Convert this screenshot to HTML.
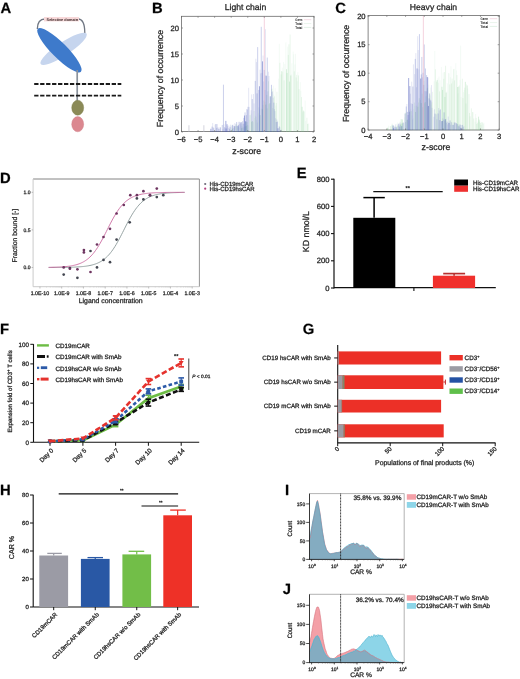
<!DOCTYPE html>
<html><head><meta charset="utf-8"><style>
html,body{margin:0;padding:0;background:#fff;}
svg{display:block;}
svg text{font-family:"Liberation Sans", Arial, sans-serif;text-rendering:geometricPrecision;stroke:#2a2a2a;stroke-width:0.28px;stroke-linejoin:round;}
svg text.ns{stroke:none;}
</style></head><body>
<svg width="520" height="679" viewBox="0 0 520 679">
<text x="0.60" y="12.60" font-size="14.8" text-anchor="start" font-weight="bold" fill="#000" >A</text>
<path d="M45,19 Q37.5,19 37.3,29" fill="none" stroke="#6f7682" stroke-width="1.3"/>
<path d="M78,19 Q84.8,19 84.8,33" fill="none" stroke="#6f7682" stroke-width="1.3"/>
<rect x="44.00" y="17.00" width="35.00" height="4.40" fill="#f8d9da" />
<text x="46.60" y="20.80" font-size="3.9" text-anchor="start" font-weight="bold" fill="#3a2a2a" class="ns" textLength="31.4" lengthAdjust="spacingAndGlyphs">Selective domain</text>
<ellipse cx="63.6" cy="48.8" rx="27.5" ry="6.6" transform="rotate(-33.5 63.6 48.8)" fill="#c6d5ee"/>
<ellipse cx="59.4" cy="50.2" rx="30.5" ry="7.6" transform="rotate(45 59.4 50.2)" fill="#3e7acb"/>
<line x1="77.20" y1="70.00" x2="77.20" y2="101.00" stroke="#8a929c" stroke-width="1.7" />
<line x1="34.20" y1="84.00" x2="121.30" y2="84.00" stroke="#1a1a1a" stroke-width="1.8" stroke-dasharray="4.3 1.66"/>
<line x1="34.20" y1="95.60" x2="121.30" y2="95.60" stroke="#1a1a1a" stroke-width="1.8" stroke-dasharray="4.3 1.66"/>
<ellipse cx="77.7" cy="107.7" rx="6.0" ry="7.5" fill="#8b8a57" stroke="#7f7d4c" stroke-width="0.4"/>
<ellipse cx="77.7" cy="124.2" rx="6.0" ry="7.6" fill="#db8890" stroke="#d07c86" stroke-width="0.4"/>
<rect x="181.5" y="16.3" width="132.5" height="115.3" fill="none" stroke="#6a6a6a" stroke-width="0.8"/>
<path d="M231.33,132.00V124.93M233.13,132.00V125.63M235.53,132.00V126.28M236.13,132.00V125.53M237.33,132.00V125.25M238.53,132.00V126.77M239.73,132.00V127.68M240.93,132.00V125.24M242.13,132.00V124.21M243.33,132.00V127.27M243.93,132.00V127.02M244.53,132.00V123.86M248.73,132.00V125.43M249.33,132.00V119.84M250.53,132.00V115.21M251.13,132.00V113.64M253.53,132.00V122.27M254.73,132.00V117.96M255.33,132.00V115.50M256.53,132.00V119.70M257.13,132.00V122.96M257.73,132.00V121.87M258.33,132.00V113.28M259.53,132.00V109.84M264.33,132.00V100.14M270.33,132.00V97.44M270.93,132.00V96.72M271.53,132.00V89.36M273.33,132.00V85.56M273.93,132.00V94.68M275.13,132.00V88.13M275.73,132.00V105.46M278.73,132.00V78.65M279.33,132.00V43.87M282.33,132.00V67.71M282.93,132.00V71.69M283.53,132.00V62.12M284.73,132.00V63.91M285.93,132.00V42.28M287.73,132.00V46.62M291.33,132.00V74.39M291.93,132.00V63.13M293.13,132.00V51.53M293.73,132.00V54.29M294.93,132.00V64.37M295.53,132.00V53.83M297.33,132.00V81.21M297.93,132.00V72.15M300.33,132.00V82.17M300.93,132.00V90.82M302.73,132.00V112.25M303.93,132.00V111.84M304.53,132.00V111.42M305.13,132.00V100.60M305.73,132.00V120.77M308.13,132.00V123.38M308.73,132.00V123.79" fill="none" stroke="#7fcf8e" stroke-width="0.6" stroke-opacity="0.14"/>
<path d="M231.93,132.00V128.49M234.93,132.00V126.58M236.73,132.00V123.79M237.93,132.00V127.38M242.73,132.00V127.87M247.53,132.00V125.14M249.93,132.00V115.21M254.13,132.00V111.09M255.93,132.00V116.64M258.93,132.00V107.28M261.33,132.00V108.81M263.13,132.00V104.93M263.73,132.00V100.59M264.93,132.00V101.78M265.53,132.00V104.75M266.13,132.00V104.48M266.73,132.00V94.87M267.33,132.00V108.42M268.53,132.00V81.32M269.13,132.00V104.29M272.13,132.00V88.65M272.73,132.00V108.17M274.53,132.00V96.40M276.33,132.00V103.00M276.93,132.00V91.74M279.93,132.00V62.81M281.13,132.00V74.41M284.13,132.00V80.31M288.33,132.00V54.90M288.93,132.00V44.22M290.13,132.00V34.56M294.33,132.00V71.37M296.13,132.00V77.55M296.73,132.00V74.89M298.53,132.00V75.42M299.13,132.00V89.10M301.53,132.00V97.03M306.93,132.00V117.74M307.53,132.00V123.96" fill="none" stroke="#7fcf8e" stroke-width="0.6" stroke-opacity="0.28"/>
<path d="M232.53,132.00V128.74M241.53,132.00V128.15M245.13,132.00V126.44M245.73,132.00V121.93M246.33,132.00V125.88M246.93,132.00V122.10M251.73,132.00V121.80M252.33,132.00V121.11M260.13,132.00V115.13M262.53,132.00V109.36M269.73,132.00V103.18M281.73,132.00V71.19M286.53,132.00V69.24M287.13,132.00V72.96M289.53,132.00V81.62M290.73,132.00V75.52M302.13,132.00V106.79M303.33,132.00V110.63" fill="none" stroke="#7fcf8e" stroke-width="0.6" stroke-opacity="0.48"/>
<path d="M212.66,132.00V123.07M213.86,132.00V128.15M215.06,132.00V124.54M215.66,132.00V123.98M217.46,132.00V124.06M218.06,132.00V127.13M219.26,132.00V128.94M219.86,132.00V127.39M222.86,132.00V128.91M224.06,132.00V124.24M227.66,132.00V126.17M228.26,132.00V128.04M228.86,132.00V125.42M230.66,132.00V124.64M231.86,132.00V126.28M233.06,132.00V124.57M233.66,132.00V127.92M234.86,132.00V123.03M235.46,132.00V124.21M236.06,132.00V125.91M239.66,132.00V123.86M242.06,132.00V126.44M247.46,132.00V109.74M248.66,132.00V87.82M249.26,132.00V106.92M251.06,132.00V110.23M251.66,132.00V94.37M253.46,132.00V94.01M254.06,132.00V103.41M255.86,132.00V58.74M256.46,132.00V62.08M260.06,132.00V69.67M260.66,132.00V73.36M261.86,132.00V72.96M263.06,132.00V55.57M263.66,132.00V81.48M264.86,132.00V90.01M265.46,132.00V29.17M266.66,132.00V76.09M267.86,132.00V91.32M268.46,132.00V71.69M269.06,132.00V76.01M272.06,132.00V92.08M272.66,132.00V91.22M273.26,132.00V97.68M274.46,132.00V109.13M275.06,132.00V111.19M275.66,132.00V118.26M276.86,132.00V119.49M279.86,132.00V127.26M280.46,132.00V129.86M281.06,132.00V129.73" fill="none" stroke="#4655b8" stroke-width="0.6" stroke-opacity="0.24"/>
<path d="M212.06,132.00V126.58M213.26,132.00V127.54M216.26,132.00V124.08M216.86,132.00V127.92M218.66,132.00V128.63M220.46,132.00V127.36M222.26,132.00V124.96M223.46,132.00V84.69M224.66,132.00V127.16M225.26,132.00V128.41M226.46,132.00V128.49M229.46,132.00V128.68M230.06,132.00V126.83M232.46,132.00V124.96M236.66,132.00V121.97M238.46,132.00V124.90M239.06,132.00V121.80M240.26,132.00V122.12M240.86,132.00V123.20M241.46,132.00V122.07M242.66,132.00V121.30M243.26,132.00V123.78M243.86,132.00V117.87M245.06,132.00V112.41M246.26,132.00V115.20M246.86,132.00V109.13M248.06,132.00V106.84M252.26,132.00V99.05M255.26,132.00V80.93M257.06,132.00V93.42M257.66,132.00V47.12M258.86,132.00V89.93M261.26,132.00V26.79M264.26,132.00V69.94M267.26,132.00V57.57M271.46,132.00V84.83M273.86,132.00V102.65M276.26,132.00V122.07M277.46,132.00V121.65M279.26,132.00V126.45" fill="none" stroke="#4655b8" stroke-width="0.6" stroke-opacity="0.47"/>
<path d="M210.86,132.00V128.81M225.86,132.00V120.89M227.06,132.00V124.28M234.26,132.00V126.15M237.86,132.00V125.92M244.46,132.00V115.54M245.66,132.00V121.23M259.46,132.00V86.27M262.46,132.00V61.37M266.06,132.00V75.59M270.26,132.00V96.28M278.06,132.00V128.28" fill="none" stroke="#4655b8" stroke-width="0.6" stroke-opacity="0.81"/>
<line x1="188.95" y1="132.00" x2="188.95" y2="125.24" stroke="#b8b8c8" stroke-width="0.6" />
<line x1="203.86" y1="132.00" x2="203.86" y2="125.24" stroke="#b8b8c8" stroke-width="0.6" />
<line x1="264.31" y1="132.00" x2="264.31" y2="16.80" stroke="#ecb4c8" stroke-width="0.6" />
<line x1="181.50" y1="131.60" x2="181.50" y2="130.10" stroke="#666" stroke-width="0.6" />
<line x1="181.50" y1="16.30" x2="181.50" y2="17.80" stroke="#666" stroke-width="0.6" />
<text x="181.50" y="141.80" font-size="7.6" text-anchor="middle" font-weight="normal" fill="#222" >−6</text>
<line x1="198.06" y1="131.60" x2="198.06" y2="130.10" stroke="#666" stroke-width="0.6" />
<line x1="198.06" y1="16.30" x2="198.06" y2="17.80" stroke="#666" stroke-width="0.6" />
<text x="198.06" y="141.80" font-size="7.6" text-anchor="middle" font-weight="normal" fill="#222" >−5</text>
<line x1="214.62" y1="131.60" x2="214.62" y2="130.10" stroke="#666" stroke-width="0.6" />
<line x1="214.62" y1="16.30" x2="214.62" y2="17.80" stroke="#666" stroke-width="0.6" />
<text x="214.62" y="141.80" font-size="7.6" text-anchor="middle" font-weight="normal" fill="#222" >−4</text>
<line x1="231.19" y1="131.60" x2="231.19" y2="130.10" stroke="#666" stroke-width="0.6" />
<line x1="231.19" y1="16.30" x2="231.19" y2="17.80" stroke="#666" stroke-width="0.6" />
<text x="231.19" y="141.80" font-size="7.6" text-anchor="middle" font-weight="normal" fill="#222" >−3</text>
<line x1="247.75" y1="131.60" x2="247.75" y2="130.10" stroke="#666" stroke-width="0.6" />
<line x1="247.75" y1="16.30" x2="247.75" y2="17.80" stroke="#666" stroke-width="0.6" />
<text x="247.75" y="141.80" font-size="7.6" text-anchor="middle" font-weight="normal" fill="#222" >−2</text>
<line x1="264.31" y1="131.60" x2="264.31" y2="130.10" stroke="#666" stroke-width="0.6" />
<line x1="264.31" y1="16.30" x2="264.31" y2="17.80" stroke="#666" stroke-width="0.6" />
<text x="264.31" y="141.80" font-size="7.6" text-anchor="middle" font-weight="normal" fill="#222" >−1</text>
<line x1="280.88" y1="131.60" x2="280.88" y2="130.10" stroke="#666" stroke-width="0.6" />
<line x1="280.88" y1="16.30" x2="280.88" y2="17.80" stroke="#666" stroke-width="0.6" />
<text x="280.88" y="141.80" font-size="7.6" text-anchor="middle" font-weight="normal" fill="#222" >0</text>
<line x1="297.44" y1="131.60" x2="297.44" y2="130.10" stroke="#666" stroke-width="0.6" />
<line x1="297.44" y1="16.30" x2="297.44" y2="17.80" stroke="#666" stroke-width="0.6" />
<text x="297.44" y="141.80" font-size="7.6" text-anchor="middle" font-weight="normal" fill="#222" >1</text>
<line x1="314.00" y1="131.60" x2="314.00" y2="130.10" stroke="#666" stroke-width="0.6" />
<line x1="314.00" y1="16.30" x2="314.00" y2="17.80" stroke="#666" stroke-width="0.6" />
<text x="314.00" y="141.80" font-size="7.6" text-anchor="middle" font-weight="normal" fill="#222" >2</text>
<line x1="181.50" y1="132.00" x2="183.00" y2="132.00" stroke="#666" stroke-width="0.6" />
<line x1="314.00" y1="132.00" x2="312.50" y2="132.00" stroke="#666" stroke-width="0.6" />
<text x="179.00" y="134.70" font-size="7.6" text-anchor="end" font-weight="normal" fill="#222" >0</text>
<line x1="181.50" y1="106.00" x2="183.00" y2="106.00" stroke="#666" stroke-width="0.6" />
<line x1="314.00" y1="106.00" x2="312.50" y2="106.00" stroke="#666" stroke-width="0.6" />
<text x="179.00" y="108.70" font-size="7.6" text-anchor="end" font-weight="normal" fill="#222" >5</text>
<line x1="181.50" y1="80.00" x2="183.00" y2="80.00" stroke="#666" stroke-width="0.6" />
<line x1="314.00" y1="80.00" x2="312.50" y2="80.00" stroke="#666" stroke-width="0.6" />
<text x="179.00" y="82.70" font-size="7.6" text-anchor="end" font-weight="normal" fill="#222" >10</text>
<line x1="181.50" y1="54.00" x2="183.00" y2="54.00" stroke="#666" stroke-width="0.6" />
<line x1="314.00" y1="54.00" x2="312.50" y2="54.00" stroke="#666" stroke-width="0.6" />
<text x="179.00" y="56.70" font-size="7.6" text-anchor="end" font-weight="normal" fill="#222" >15</text>
<line x1="181.50" y1="28.00" x2="183.00" y2="28.00" stroke="#666" stroke-width="0.6" />
<line x1="314.00" y1="28.00" x2="312.50" y2="28.00" stroke="#666" stroke-width="0.6" />
<text x="179.00" y="30.70" font-size="7.6" text-anchor="end" font-weight="normal" fill="#222" >20</text>
<text x="245.50" y="10.30" font-size="8.6" text-anchor="middle" font-weight="normal" fill="#222" >Light chain</text>
<text x="246.70" y="153.60" font-size="8.8" text-anchor="middle" font-weight="normal" fill="#222" >z-score</text>
<text x="162.60" y="78.50" font-size="8.8" text-anchor="middle" font-weight="normal" fill="#222" transform="rotate(-90 162.6 78.5)">Frequency of occurrence</text>
<text x="295.30" y="21.00" font-size="3.6" text-anchor="start" font-weight="bold" fill="#222" class="ns" textLength="7.0" lengthAdjust="spacingAndGlyphs">Germ</text>
<line x1="303.90" y1="19.70" x2="311.30" y2="19.70" stroke="#e8b8c8" stroke-width="0.5" />
<text x="295.30" y="24.85" font-size="3.6" text-anchor="start" font-weight="bold" fill="#222" class="ns" textLength="7.0" lengthAdjust="spacingAndGlyphs">Total</text>
<line x1="303.90" y1="23.55" x2="311.30" y2="23.55" stroke="#d4eadb" stroke-width="0.5" />
<text x="295.30" y="28.70" font-size="3.6" text-anchor="start" font-weight="bold" fill="#222" class="ns" textLength="7.0" lengthAdjust="spacingAndGlyphs">Total</text>
<line x1="303.90" y1="27.40" x2="311.30" y2="27.40" stroke="#c4e4cc" stroke-width="0.5" />
<rect x="368.1" y="15.4" width="131.09999999999997" height="114.6" fill="none" stroke="#6a6a6a" stroke-width="0.8"/>
<path d="M388.56,130.20V125.61M390.96,130.20V125.83M391.56,130.20V125.16M392.76,130.20V124.71M393.96,130.20V125.73M395.16,130.20V126.31M396.36,130.20V123.78M397.56,130.20V122.42M398.76,130.20V125.28M399.36,130.20V124.93M399.96,130.20V121.46M404.16,130.20V123.17M404.76,130.20V117.34M405.96,130.20V112.93M406.56,130.20V111.62M408.96,130.20V120.95M410.16,130.20V111.66M410.76,130.20V109.09M411.96,130.20V115.32M412.56,130.20V119.51M413.16,130.20V118.48M413.76,130.20V108.95M414.96,130.20V105.86M419.76,130.20V98.12M425.76,130.20V96.49M426.36,130.20V95.74M426.96,130.20V88.50M428.76,130.20V84.68M429.36,130.20V93.65M430.56,130.20V87.48M431.16,130.20V104.50M434.16,130.20V81.43M434.76,130.20V51.05M437.76,130.20V78.40M438.36,130.20V82.75M438.96,130.20V76.51M440.16,130.20V80.22M441.36,130.20V66.96M443.16,130.20V72.71M446.76,130.20V91.53M447.36,130.20V83.32M448.56,130.20V73.06M449.16,130.20V73.43M450.36,130.20V77.15M450.96,130.20V66.21M452.76,130.20V81.62M453.36,130.20V69.39M455.76,130.20V63.26M456.36,130.20V70.38M458.16,130.20V93.33M459.36,130.20V85.17M459.96,130.20V79.78M460.56,130.20V45.65M461.16,130.20V96.91M463.56,130.20V92.07M464.16,130.20V89.89M466.56,130.20V84.03M467.76,130.20V88.57M473.16,130.20V112.33M474.96,130.20V121.71M475.56,130.20V113.99M477.96,130.20V121.42M481.56,130.20V122.25M482.76,130.20V123.16M483.36,130.20V123.73M483.96,130.20V122.71" fill="none" stroke="#7fcf8e" stroke-width="0.6" stroke-opacity="0.14"/>
<path d="M387.36,130.20V127.72M390.36,130.20V126.12M392.16,130.20V123.67M393.36,130.20V126.35M398.16,130.20V125.98M402.96,130.20V122.73M405.36,130.20V112.68M409.56,130.20V110.64M411.36,130.20V111.12M414.36,130.20V102.62M416.76,130.20V105.70M418.56,130.20V102.48M419.16,130.20V98.31M420.36,130.20V100.00M420.96,130.20V103.14M421.56,130.20V103.02M422.16,130.20V93.69M422.76,130.20V107.10M423.96,130.20V80.77M424.56,130.20V103.19M427.56,130.20V87.75M428.16,130.20V106.84M429.96,130.20V95.40M431.76,130.20V102.33M432.36,130.20V91.87M435.36,130.20V69.25M436.56,130.20V81.59M439.56,130.20V91.39M443.76,130.20V78.79M444.36,130.20V72.04M445.56,130.20V65.75M449.76,130.20V84.41M451.56,130.20V83.46M452.16,130.20V78.56M453.96,130.20V68.88M454.56,130.20V80.43M456.96,130.20V75.11M462.36,130.20V78.71M462.96,130.20V98.07M464.76,130.20V87.67M465.96,130.20V103.52M468.96,130.20V94.12M469.56,130.20V112.92M470.16,130.20V116.35M471.36,130.20V108.37M472.56,130.20V111.96M473.76,130.20V118.51M476.16,130.20V117.93M476.76,130.20V123.96M477.36,130.20V122.83M479.76,130.20V121.57M480.36,130.20V122.96M480.96,130.20V124.93M482.16,130.20V122.06" fill="none" stroke="#7fcf8e" stroke-width="0.6" stroke-opacity="0.28"/>
<path d="M387.96,130.20V127.87M396.96,130.20V126.44M400.56,130.20V124.17M401.16,130.20V119.22M401.76,130.20V123.51M402.36,130.20V119.38M407.16,130.20V120.04M407.76,130.20V119.52M415.56,130.20V111.93M417.96,130.20V106.79M425.16,130.20V102.11M437.16,130.20V80.04M441.96,130.20V86.74M442.56,130.20V89.94M444.96,130.20V96.91M446.16,130.20V92.65M457.56,130.20V87.03M458.76,130.20V86.61M465.36,130.20V81.84M467.16,130.20V85.48M478.56,130.20V116.67M479.16,130.20V119.64" fill="none" stroke="#7fcf8e" stroke-width="0.6" stroke-opacity="0.48"/>
<path d="M395.45,130.20V124.45M396.65,130.20V127.57M397.85,130.20V124.65M398.45,130.20V123.90M400.25,130.20V122.43M400.85,130.20V124.98M402.05,130.20V126.18M402.65,130.20V123.43M405.65,130.20V121.97M406.85,130.20V104.03M410.45,130.20V93.73M411.05,130.20V103.21M411.65,130.20V81.71M413.45,130.20V64.38M414.65,130.20V74.14M415.85,130.20V53.14M416.45,130.20V87.32M417.65,130.20V36.22M418.25,130.20V50.04M418.85,130.20V69.39M422.45,130.20V77.37M424.85,130.20V91.07M430.25,130.20V99.68M431.45,130.20V85.12M432.05,130.20V107.87M433.85,130.20V116.72M434.45,130.20V109.26M436.25,130.20V114.30M436.85,130.20V119.21M438.65,130.20V107.98M439.25,130.20V110.51M442.85,130.20V118.41M443.45,130.20V119.72M444.65,130.20V120.68M445.85,130.20V118.89M446.45,130.20V122.99M447.65,130.20V124.52M448.25,130.20V116.55M449.45,130.20V122.90M450.65,130.20V124.83M451.25,130.20V122.10M451.85,130.20V122.48M454.85,130.20V123.09M455.45,130.20V122.34M456.05,130.20V122.96M457.25,130.20V124.25M457.85,130.20V124.09M458.45,130.20V125.60M459.65,130.20V124.57M462.65,130.20V124.77M463.25,130.20V127.14M463.85,130.20V126.12" fill="none" stroke="#4655b8" stroke-width="0.6" stroke-opacity="0.24"/>
<path d="M394.85,130.20V126.78M396.05,130.20V127.25M399.05,130.20V123.57M399.65,130.20V126.52M401.45,130.20V126.21M403.25,130.20V122.55M405.05,130.20V113.59M406.25,130.20V106.53M407.45,130.20V111.89M408.05,130.20V115.03M409.25,130.20V111.97M412.25,130.20V103.93M412.85,130.20V86.57M415.25,130.20V58.92M419.45,130.20V34.13M421.25,130.20V74.41M421.85,130.20V56.96M423.05,130.20V72.80M423.65,130.20V84.87M424.25,130.20V44.48M425.45,130.20V68.53M426.05,130.20V91.29M426.65,130.20V75.09M427.85,130.20V77.50M429.05,130.20V98.35M429.65,130.20V93.44M430.85,130.20V100.56M435.05,130.20V113.61M438.05,130.20V113.48M439.85,130.20V120.09M440.45,130.20V109.45M441.65,130.20V121.20M444.05,130.20V112.37M447.05,130.20V121.60M450.05,130.20V120.46M454.25,130.20V122.37M456.65,130.20V123.36M459.05,130.20V126.37M460.25,130.20V124.71M462.05,130.20V125.04" fill="none" stroke="#4655b8" stroke-width="0.6" stroke-opacity="0.47"/>
<path d="M393.05,130.20V125.45M393.65,130.20V128.24M408.65,130.20V78.03M409.85,130.20V86.08M417.05,130.20V68.48M420.65,130.20V78.56M427.25,130.20V77.02M428.45,130.20V105.95M442.25,130.20V121.01M445.25,130.20V119.32M448.85,130.20V122.80M453.05,130.20V124.89M460.85,130.20V127.85" fill="none" stroke="#4655b8" stroke-width="0.6" stroke-opacity="0.81"/>
<line x1="423.35" y1="130.20" x2="423.35" y2="15.90" stroke="#ecb4c8" stroke-width="0.6" />
<line x1="368.10" y1="130.00" x2="368.10" y2="128.50" stroke="#666" stroke-width="0.6" />
<line x1="368.10" y1="15.40" x2="368.10" y2="16.90" stroke="#666" stroke-width="0.6" />
<text x="368.10" y="139.30" font-size="7.6" text-anchor="middle" font-weight="normal" fill="#222" >−4</text>
<line x1="386.83" y1="130.00" x2="386.83" y2="128.50" stroke="#666" stroke-width="0.6" />
<line x1="386.83" y1="15.40" x2="386.83" y2="16.90" stroke="#666" stroke-width="0.6" />
<text x="386.83" y="139.30" font-size="7.6" text-anchor="middle" font-weight="normal" fill="#222" >−3</text>
<line x1="405.56" y1="130.00" x2="405.56" y2="128.50" stroke="#666" stroke-width="0.6" />
<line x1="405.56" y1="15.40" x2="405.56" y2="16.90" stroke="#666" stroke-width="0.6" />
<text x="405.56" y="139.30" font-size="7.6" text-anchor="middle" font-weight="normal" fill="#222" >−2</text>
<line x1="424.29" y1="130.00" x2="424.29" y2="128.50" stroke="#666" stroke-width="0.6" />
<line x1="424.29" y1="15.40" x2="424.29" y2="16.90" stroke="#666" stroke-width="0.6" />
<text x="424.29" y="139.30" font-size="7.6" text-anchor="middle" font-weight="normal" fill="#222" >−1</text>
<line x1="443.01" y1="130.00" x2="443.01" y2="128.50" stroke="#666" stroke-width="0.6" />
<line x1="443.01" y1="15.40" x2="443.01" y2="16.90" stroke="#666" stroke-width="0.6" />
<text x="443.01" y="139.30" font-size="7.6" text-anchor="middle" font-weight="normal" fill="#222" >0</text>
<line x1="461.74" y1="130.00" x2="461.74" y2="128.50" stroke="#666" stroke-width="0.6" />
<line x1="461.74" y1="15.40" x2="461.74" y2="16.90" stroke="#666" stroke-width="0.6" />
<text x="461.74" y="139.30" font-size="7.6" text-anchor="middle" font-weight="normal" fill="#222" >1</text>
<line x1="480.47" y1="130.00" x2="480.47" y2="128.50" stroke="#666" stroke-width="0.6" />
<line x1="480.47" y1="15.40" x2="480.47" y2="16.90" stroke="#666" stroke-width="0.6" />
<text x="480.47" y="139.30" font-size="7.6" text-anchor="middle" font-weight="normal" fill="#222" >2</text>
<line x1="499.20" y1="130.00" x2="499.20" y2="128.50" stroke="#666" stroke-width="0.6" />
<line x1="499.20" y1="15.40" x2="499.20" y2="16.90" stroke="#666" stroke-width="0.6" />
<text x="499.20" y="139.30" font-size="7.6" text-anchor="middle" font-weight="normal" fill="#222" >3</text>
<line x1="368.10" y1="130.20" x2="369.60" y2="130.20" stroke="#666" stroke-width="0.6" />
<line x1="499.20" y1="130.20" x2="497.70" y2="130.20" stroke="#666" stroke-width="0.6" />
<text x="365.60" y="132.90" font-size="7.6" text-anchor="end" font-weight="normal" fill="#222" >0</text>
<line x1="368.10" y1="101.70" x2="369.60" y2="101.70" stroke="#666" stroke-width="0.6" />
<line x1="499.20" y1="101.70" x2="497.70" y2="101.70" stroke="#666" stroke-width="0.6" />
<text x="365.60" y="104.40" font-size="7.6" text-anchor="end" font-weight="normal" fill="#222" >5</text>
<line x1="368.10" y1="73.20" x2="369.60" y2="73.20" stroke="#666" stroke-width="0.6" />
<line x1="499.20" y1="73.20" x2="497.70" y2="73.20" stroke="#666" stroke-width="0.6" />
<text x="365.60" y="75.90" font-size="7.6" text-anchor="end" font-weight="normal" fill="#222" >10</text>
<line x1="368.10" y1="44.70" x2="369.60" y2="44.70" stroke="#666" stroke-width="0.6" />
<line x1="499.20" y1="44.70" x2="497.70" y2="44.70" stroke="#666" stroke-width="0.6" />
<text x="365.60" y="47.40" font-size="7.6" text-anchor="end" font-weight="normal" fill="#222" >15</text>
<line x1="368.10" y1="16.20" x2="369.60" y2="16.20" stroke="#666" stroke-width="0.6" />
<line x1="499.20" y1="16.20" x2="497.70" y2="16.20" stroke="#666" stroke-width="0.6" />
<text x="365.60" y="18.90" font-size="7.6" text-anchor="end" font-weight="normal" fill="#222" >20</text>
<text x="433.50" y="10.30" font-size="8.6" text-anchor="middle" font-weight="normal" fill="#222" >Heavy chain</text>
<text x="436.00" y="149.80" font-size="8.8" text-anchor="middle" font-weight="normal" fill="#222" >z-score</text>
<text x="348.80" y="73.40" font-size="8.8" text-anchor="middle" font-weight="normal" fill="#222" transform="rotate(-90 348.8 73.4)">Frequency of occurrence</text>
<text x="480.60" y="20.00" font-size="3.6" text-anchor="start" font-weight="bold" fill="#222" class="ns" textLength="7.6" lengthAdjust="spacingAndGlyphs">Germ</text>
<line x1="489.80" y1="18.70" x2="497.20" y2="18.70" stroke="#e8b8c8" stroke-width="0.5" />
<text x="480.60" y="23.85" font-size="3.6" text-anchor="start" font-weight="bold" fill="#222" class="ns" textLength="7.6" lengthAdjust="spacingAndGlyphs">Total</text>
<line x1="489.80" y1="22.55" x2="497.20" y2="22.55" stroke="#d4eadb" stroke-width="0.5" />
<text x="480.60" y="27.70" font-size="3.6" text-anchor="start" font-weight="bold" fill="#222" class="ns" textLength="7.6" lengthAdjust="spacingAndGlyphs">Total</text>
<line x1="489.80" y1="26.40" x2="497.20" y2="26.40" stroke="#c4e4cc" stroke-width="0.5" />
<text x="151.90" y="12.80" font-size="14.8" text-anchor="start" font-weight="bold" fill="#000" >B</text>
<text x="335.30" y="12.80" font-size="14.8" text-anchor="start" font-weight="bold" fill="#000" >C</text>
<text x="-0.10" y="182.90" font-size="14.8" text-anchor="start" font-weight="bold" fill="#000" >D</text>
<line x1="33.10" y1="179.00" x2="199.40" y2="179.00" stroke="#777" stroke-width="0.9" />
<line x1="199.40" y1="179.00" x2="199.40" y2="286.70" stroke="#888" stroke-width="0.9" />
<line x1="33.10" y1="179.00" x2="33.10" y2="286.70" stroke="#c4c4c4" stroke-width="0.9" />
<line x1="33.10" y1="286.70" x2="199.40" y2="286.70" stroke="#c4c4c4" stroke-width="0.9" />
<line x1="31.60" y1="267.50" x2="33.10" y2="267.50" stroke="#999" stroke-width="0.6" />
<text x="30.50" y="269.30" font-size="5.0" text-anchor="end" font-weight="normal" fill="#333" >0.0</text>
<line x1="31.60" y1="229.90" x2="33.10" y2="229.90" stroke="#999" stroke-width="0.6" />
<text x="30.50" y="231.70" font-size="5.0" text-anchor="end" font-weight="normal" fill="#333" >0.5</text>
<line x1="31.60" y1="192.30" x2="33.10" y2="192.30" stroke="#999" stroke-width="0.6" />
<text x="30.50" y="194.10" font-size="5.0" text-anchor="end" font-weight="normal" fill="#333" >1.0</text>
<line x1="39.95" y1="286.70" x2="39.95" y2="288.50" stroke="#999" stroke-width="0.6" />
<text x="39.95" y="294.90" font-size="5.3" text-anchor="middle" font-weight="normal" fill="#333" >1.0E-10</text>
<line x1="46.50" y1="286.70" x2="46.50" y2="287.60" stroke="#bbb" stroke-width="0.4" />
<line x1="50.33" y1="286.70" x2="50.33" y2="287.60" stroke="#bbb" stroke-width="0.4" />
<line x1="53.04" y1="286.70" x2="53.04" y2="287.60" stroke="#bbb" stroke-width="0.4" />
<line x1="55.15" y1="286.70" x2="55.15" y2="287.60" stroke="#bbb" stroke-width="0.4" />
<line x1="56.87" y1="286.70" x2="56.87" y2="287.60" stroke="#bbb" stroke-width="0.4" />
<line x1="58.33" y1="286.70" x2="58.33" y2="287.60" stroke="#bbb" stroke-width="0.4" />
<line x1="59.59" y1="286.70" x2="59.59" y2="287.60" stroke="#bbb" stroke-width="0.4" />
<line x1="60.70" y1="286.70" x2="60.70" y2="287.60" stroke="#bbb" stroke-width="0.4" />
<line x1="61.70" y1="286.70" x2="61.70" y2="288.50" stroke="#999" stroke-width="0.6" />
<text x="61.70" y="294.90" font-size="5.3" text-anchor="middle" font-weight="normal" fill="#333" >1.0E-9</text>
<line x1="68.25" y1="286.70" x2="68.25" y2="287.60" stroke="#bbb" stroke-width="0.4" />
<line x1="72.08" y1="286.70" x2="72.08" y2="287.60" stroke="#bbb" stroke-width="0.4" />
<line x1="74.79" y1="286.70" x2="74.79" y2="287.60" stroke="#bbb" stroke-width="0.4" />
<line x1="76.90" y1="286.70" x2="76.90" y2="287.60" stroke="#bbb" stroke-width="0.4" />
<line x1="78.62" y1="286.70" x2="78.62" y2="287.60" stroke="#bbb" stroke-width="0.4" />
<line x1="80.08" y1="286.70" x2="80.08" y2="287.60" stroke="#bbb" stroke-width="0.4" />
<line x1="81.34" y1="286.70" x2="81.34" y2="287.60" stroke="#bbb" stroke-width="0.4" />
<line x1="82.45" y1="286.70" x2="82.45" y2="287.60" stroke="#bbb" stroke-width="0.4" />
<line x1="83.45" y1="286.70" x2="83.45" y2="288.50" stroke="#999" stroke-width="0.6" />
<text x="83.45" y="294.90" font-size="5.3" text-anchor="middle" font-weight="normal" fill="#333" >1.0E-8</text>
<line x1="90.00" y1="286.70" x2="90.00" y2="287.60" stroke="#bbb" stroke-width="0.4" />
<line x1="93.83" y1="286.70" x2="93.83" y2="287.60" stroke="#bbb" stroke-width="0.4" />
<line x1="96.54" y1="286.70" x2="96.54" y2="287.60" stroke="#bbb" stroke-width="0.4" />
<line x1="98.65" y1="286.70" x2="98.65" y2="287.60" stroke="#bbb" stroke-width="0.4" />
<line x1="100.37" y1="286.70" x2="100.37" y2="287.60" stroke="#bbb" stroke-width="0.4" />
<line x1="101.83" y1="286.70" x2="101.83" y2="287.60" stroke="#bbb" stroke-width="0.4" />
<line x1="103.09" y1="286.70" x2="103.09" y2="287.60" stroke="#bbb" stroke-width="0.4" />
<line x1="104.20" y1="286.70" x2="104.20" y2="287.60" stroke="#bbb" stroke-width="0.4" />
<line x1="105.20" y1="286.70" x2="105.20" y2="288.50" stroke="#999" stroke-width="0.6" />
<text x="105.20" y="294.90" font-size="5.3" text-anchor="middle" font-weight="normal" fill="#333" >1.0E-7</text>
<line x1="111.75" y1="286.70" x2="111.75" y2="287.60" stroke="#bbb" stroke-width="0.4" />
<line x1="115.58" y1="286.70" x2="115.58" y2="287.60" stroke="#bbb" stroke-width="0.4" />
<line x1="118.29" y1="286.70" x2="118.29" y2="287.60" stroke="#bbb" stroke-width="0.4" />
<line x1="120.40" y1="286.70" x2="120.40" y2="287.60" stroke="#bbb" stroke-width="0.4" />
<line x1="122.12" y1="286.70" x2="122.12" y2="287.60" stroke="#bbb" stroke-width="0.4" />
<line x1="123.58" y1="286.70" x2="123.58" y2="287.60" stroke="#bbb" stroke-width="0.4" />
<line x1="124.84" y1="286.70" x2="124.84" y2="287.60" stroke="#bbb" stroke-width="0.4" />
<line x1="125.95" y1="286.70" x2="125.95" y2="287.60" stroke="#bbb" stroke-width="0.4" />
<line x1="126.95" y1="286.70" x2="126.95" y2="288.50" stroke="#999" stroke-width="0.6" />
<text x="126.95" y="294.90" font-size="5.3" text-anchor="middle" font-weight="normal" fill="#333" >1.0E-6</text>
<line x1="133.50" y1="286.70" x2="133.50" y2="287.60" stroke="#bbb" stroke-width="0.4" />
<line x1="137.33" y1="286.70" x2="137.33" y2="287.60" stroke="#bbb" stroke-width="0.4" />
<line x1="140.04" y1="286.70" x2="140.04" y2="287.60" stroke="#bbb" stroke-width="0.4" />
<line x1="142.15" y1="286.70" x2="142.15" y2="287.60" stroke="#bbb" stroke-width="0.4" />
<line x1="143.87" y1="286.70" x2="143.87" y2="287.60" stroke="#bbb" stroke-width="0.4" />
<line x1="145.33" y1="286.70" x2="145.33" y2="287.60" stroke="#bbb" stroke-width="0.4" />
<line x1="146.59" y1="286.70" x2="146.59" y2="287.60" stroke="#bbb" stroke-width="0.4" />
<line x1="147.70" y1="286.70" x2="147.70" y2="287.60" stroke="#bbb" stroke-width="0.4" />
<line x1="148.70" y1="286.70" x2="148.70" y2="288.50" stroke="#999" stroke-width="0.6" />
<text x="148.70" y="294.90" font-size="5.3" text-anchor="middle" font-weight="normal" fill="#333" >1.0E-5</text>
<line x1="155.25" y1="286.70" x2="155.25" y2="287.60" stroke="#bbb" stroke-width="0.4" />
<line x1="159.08" y1="286.70" x2="159.08" y2="287.60" stroke="#bbb" stroke-width="0.4" />
<line x1="161.79" y1="286.70" x2="161.79" y2="287.60" stroke="#bbb" stroke-width="0.4" />
<line x1="163.90" y1="286.70" x2="163.90" y2="287.60" stroke="#bbb" stroke-width="0.4" />
<line x1="165.62" y1="286.70" x2="165.62" y2="287.60" stroke="#bbb" stroke-width="0.4" />
<line x1="167.08" y1="286.70" x2="167.08" y2="287.60" stroke="#bbb" stroke-width="0.4" />
<line x1="168.34" y1="286.70" x2="168.34" y2="287.60" stroke="#bbb" stroke-width="0.4" />
<line x1="169.45" y1="286.70" x2="169.45" y2="287.60" stroke="#bbb" stroke-width="0.4" />
<line x1="170.45" y1="286.70" x2="170.45" y2="288.50" stroke="#999" stroke-width="0.6" />
<text x="170.45" y="294.90" font-size="5.3" text-anchor="middle" font-weight="normal" fill="#333" >1.0E-4</text>
<line x1="177.00" y1="286.70" x2="177.00" y2="287.60" stroke="#bbb" stroke-width="0.4" />
<line x1="180.83" y1="286.70" x2="180.83" y2="287.60" stroke="#bbb" stroke-width="0.4" />
<line x1="183.54" y1="286.70" x2="183.54" y2="287.60" stroke="#bbb" stroke-width="0.4" />
<line x1="185.65" y1="286.70" x2="185.65" y2="287.60" stroke="#bbb" stroke-width="0.4" />
<line x1="187.37" y1="286.70" x2="187.37" y2="287.60" stroke="#bbb" stroke-width="0.4" />
<line x1="188.83" y1="286.70" x2="188.83" y2="287.60" stroke="#bbb" stroke-width="0.4" />
<line x1="190.09" y1="286.70" x2="190.09" y2="287.60" stroke="#bbb" stroke-width="0.4" />
<line x1="191.20" y1="286.70" x2="191.20" y2="287.60" stroke="#bbb" stroke-width="0.4" />
<line x1="192.20" y1="286.70" x2="192.20" y2="288.50" stroke="#999" stroke-width="0.6" />
<text x="192.20" y="294.90" font-size="5.3" text-anchor="middle" font-weight="normal" fill="#333" >1.0E-3</text>
<text x="110.70" y="303.10" font-size="6.9" text-anchor="middle" font-weight="normal" fill="#222" >Ligand concentration</text>
<text x="16.6" y="235.6" font-size="6.85" text-anchor="middle" fill="#222" transform="rotate(-90 16.6 235.6)">Fraction bound [-]</text>
<polyline points="48.65,267.47 49.74,267.47 50.83,267.47 51.91,267.46 53.00,267.46 54.09,267.45 55.18,267.45 56.26,267.44 57.35,267.43 58.44,267.43 59.53,267.42 60.61,267.41 61.70,267.40 62.79,267.38 63.88,267.37 64.96,267.35 66.05,267.34 67.14,267.32 68.23,267.29 69.31,267.27 70.40,267.24 71.49,267.21 72.58,267.17 73.66,267.13 74.75,267.09 75.84,267.04 76.93,266.98 78.01,266.92 79.10,266.85 80.19,266.77 81.28,266.68 82.36,266.59 83.45,266.48 84.54,266.35 85.63,266.22 86.71,266.06 87.80,265.89 88.89,265.70 89.98,265.48 91.06,265.25 92.15,264.98 93.24,264.68 94.33,264.35 95.41,263.99 96.50,263.58 97.59,263.13 98.68,262.63 99.76,262.08 100.85,261.48 101.94,260.81 103.03,260.07 104.11,259.26 105.20,258.38 106.29,257.41 107.38,256.37 108.46,255.23 109.55,254.00 110.64,252.68 111.73,251.26 112.81,249.75 113.90,248.14 114.99,246.44 116.08,244.65 117.16,242.78 118.25,240.83 119.34,238.82 120.43,236.75 121.51,234.64 122.60,232.49 123.69,230.33 124.78,228.17 125.86,226.02 126.95,223.89 128.04,221.80 129.13,219.77 130.21,217.79 131.30,215.89 132.39,214.07 133.48,212.33 134.56,210.68 135.65,209.13 136.74,207.68 137.83,206.32 138.91,205.05 140.00,203.88 141.09,202.79 142.18,201.80 143.26,200.88 144.35,200.04 145.44,199.28 146.53,198.59 147.61,197.95 148.70,197.38 149.79,196.86 150.88,196.39 151.96,195.97 153.05,195.59 154.14,195.24 155.23,194.93 156.31,194.66 157.40,194.41 158.49,194.18 159.58,193.98 160.66,193.80 161.75,193.64 162.84,193.50 163.93,193.37 165.01,193.26 166.10,193.15 167.19,193.06 168.28,192.98 169.36,192.91 170.45,192.84 171.54,192.78 172.63,192.73 173.71,192.68 174.80,192.64 175.89,192.61 176.98,192.57 178.06,192.54 179.15,192.52 180.24,192.49 181.33,192.47 182.41,192.45 183.50,192.44 184.59,192.42" fill="none" stroke="#8a9898" stroke-width="0.9"/>
<polyline points="48.65,267.35 49.74,267.33 50.83,267.31 51.91,267.28 53.00,267.26 54.09,267.23 55.18,267.19 56.26,267.16 57.35,267.12 58.44,267.07 59.53,267.02 60.61,266.96 61.70,266.89 62.79,266.82 63.88,266.74 64.96,266.65 66.05,266.54 67.14,266.43 68.23,266.30 69.31,266.16 70.40,266.00 71.49,265.82 72.58,265.62 73.66,265.39 74.75,265.14 75.84,264.87 76.93,264.56 78.01,264.21 79.10,263.83 80.19,263.41 81.28,262.94 82.36,262.42 83.45,261.85 84.54,261.21 85.63,260.52 86.71,259.76 87.80,258.92 88.89,258.00 89.98,257.01 91.06,255.92 92.15,254.75 93.24,253.48 94.33,252.12 95.41,250.67 96.50,249.12 97.59,247.47 98.68,245.73 99.76,243.91 100.85,242.01 101.94,240.03 103.03,238.00 104.11,235.91 105.20,233.78 106.29,231.63 107.38,229.47 108.46,227.31 109.55,225.16 110.64,223.05 111.73,220.98 112.81,218.97 113.90,217.02 114.99,215.15 116.08,213.36 117.16,211.66 118.25,210.05 119.34,208.54 120.43,207.12 121.51,205.80 122.60,204.57 123.69,203.43 124.78,202.39 125.86,201.42 126.95,200.54 128.04,199.73 129.13,198.99 130.21,198.32 131.30,197.72 132.39,197.17 133.48,196.67 134.56,196.22 135.65,195.81 136.74,195.45 137.83,195.12 138.91,194.82 140.00,194.55 141.09,194.32 142.18,194.10 143.26,193.91 144.35,193.74 145.44,193.58 146.53,193.45 147.61,193.32 148.70,193.21 149.79,193.12 150.88,193.03 151.96,192.95 153.05,192.88 154.14,192.82 155.23,192.76 156.31,192.71 157.40,192.67 158.49,192.63 159.58,192.59 160.66,192.56 161.75,192.53 162.84,192.51 163.93,192.48 165.01,192.46 166.10,192.45 167.19,192.43 168.28,192.42 169.36,192.40 170.45,192.39 171.54,192.38 172.63,192.37 173.71,192.37 174.80,192.36 175.89,192.35 176.98,192.35 178.06,192.34 179.15,192.34 180.24,192.33 181.33,192.33 182.41,192.33 183.50,192.32 184.59,192.32" fill="none" stroke="#cc6ca2" stroke-width="0.9"/>
<circle cx="63.7" cy="274.6" r="1.35" fill="#434650"/>
<circle cx="69.9" cy="268" r="1.35" fill="#434650"/>
<circle cx="77.4" cy="277.8" r="1.35" fill="#434650"/>
<circle cx="90.5" cy="251" r="1.35" fill="#434650"/>
<circle cx="97" cy="267.4" r="1.35" fill="#434650"/>
<circle cx="103.5" cy="259.9" r="1.35" fill="#434650"/>
<circle cx="110" cy="262.2" r="1.35" fill="#434650"/>
<circle cx="116.6" cy="239.6" r="1.35" fill="#434650"/>
<circle cx="129.7" cy="222.3" r="1.35" fill="#434650"/>
<circle cx="136.9" cy="198.4" r="1.35" fill="#434650"/>
<circle cx="143.4" cy="199.4" r="1.35" fill="#434650"/>
<circle cx="150" cy="195.2" r="1.35" fill="#434650"/>
<circle cx="156.8" cy="197.1" r="1.35" fill="#434650"/>
<circle cx="163.3" cy="195.2" r="1.35" fill="#434650"/>
<circle cx="63.7" cy="267.4" r="1.35" fill="#6e3460"/>
<circle cx="69.9" cy="268.7" r="1.35" fill="#6e3460"/>
<circle cx="77.4" cy="269.3" r="1.35" fill="#6e3460"/>
<circle cx="83.9" cy="250" r="1.35" fill="#6e3460"/>
<circle cx="83.9" cy="252.4" r="1.35" fill="#6e3460"/>
<circle cx="90.5" cy="272" r="1.35" fill="#6e3460"/>
<circle cx="97" cy="244.5" r="1.35" fill="#6e3460"/>
<circle cx="103.5" cy="237" r="1.35" fill="#6e3460"/>
<circle cx="110" cy="228.8" r="1.35" fill="#6e3460"/>
<circle cx="116.6" cy="213.5" r="1.35" fill="#6e3460"/>
<circle cx="123.8" cy="205" r="1.35" fill="#6e3460"/>
<circle cx="130.3" cy="195.2" r="1.35" fill="#6e3460"/>
<circle cx="136.9" cy="195.2" r="1.35" fill="#6e3460"/>
<circle cx="143.4" cy="191.2" r="1.35" fill="#6e3460"/>
<circle cx="150" cy="195.2" r="1.35" fill="#6e3460"/>
<circle cx="156.8" cy="188.6" r="1.35" fill="#6e3460"/>
<circle cx="205.2" cy="184" r="1.1" fill="#6d6a78"/>
<circle cx="205.2" cy="188.7" r="1.1" fill="#b2407f"/>
<text x="209.60" y="186.10" font-size="6.0" text-anchor="start" font-weight="normal" fill="#222" >His-CD19mCAR</text>
<text x="209.60" y="190.80" font-size="6.0" text-anchor="start" font-weight="normal" fill="#222" >His-CD19hsCAR</text>
<text x="296.70" y="177.90" font-size="14.8" text-anchor="start" font-weight="bold" fill="#000" >E</text>
<line x1="334.00" y1="178.80" x2="334.00" y2="288.50" stroke="#111" stroke-width="1.2" />
<line x1="334.00" y1="287.70" x2="495.80" y2="287.70" stroke="#111" stroke-width="1.3" />
<line x1="331.00" y1="288.00" x2="334.00" y2="288.00" stroke="#111" stroke-width="1.1" />
<text x="329.40" y="290.60" font-size="7.6" text-anchor="end" font-weight="normal" fill="#222" >0</text>
<line x1="331.00" y1="260.80" x2="334.00" y2="260.80" stroke="#111" stroke-width="1.1" />
<text x="329.40" y="263.40" font-size="7.6" text-anchor="end" font-weight="normal" fill="#222" >200</text>
<line x1="331.00" y1="233.60" x2="334.00" y2="233.60" stroke="#111" stroke-width="1.1" />
<text x="329.40" y="236.20" font-size="7.6" text-anchor="end" font-weight="normal" fill="#222" >400</text>
<line x1="331.00" y1="206.40" x2="334.00" y2="206.40" stroke="#111" stroke-width="1.1" />
<text x="329.40" y="209.00" font-size="7.6" text-anchor="end" font-weight="normal" fill="#222" >600</text>
<line x1="331.00" y1="179.20" x2="334.00" y2="179.20" stroke="#111" stroke-width="1.1" />
<text x="329.40" y="181.80" font-size="7.6" text-anchor="end" font-weight="normal" fill="#222" >800</text>
<line x1="413.90" y1="288.00" x2="413.90" y2="291.00" stroke="#111" stroke-width="1.1" />
<rect x="353.30" y="217.80" width="42.00" height="70.20" fill="#000" />
<line x1="374.10" y1="217.80" x2="374.10" y2="197.60" stroke="#000" stroke-width="1.5" />
<line x1="363.40" y1="197.60" x2="384.80" y2="197.60" stroke="#000" stroke-width="1.5" />
<rect x="432.90" y="275.70" width="42.20" height="12.30" fill="#f0302c" />
<line x1="454.10" y1="275.70" x2="454.10" y2="273.60" stroke="#b8302e" stroke-width="1.6" />
<line x1="443.20" y1="273.60" x2="465.10" y2="273.60" stroke="#b8302e" stroke-width="1.7" />
<line x1="373.30" y1="191.60" x2="442.70" y2="191.60" stroke="#111" stroke-width="1.2" />
<text x="407.80" y="190.20" font-size="5.6" text-anchor="middle" font-weight="normal" fill="#111" >**</text>
<rect x="454.20" y="179.50" width="13.80" height="6.20" fill="#000" />
<rect x="454.20" y="185.70" width="13.80" height="6.10" fill="#ee3130" />
<text x="473.00" y="184.70" font-size="6.2" text-anchor="start" font-weight="normal" fill="#222" >His-CD19mCAR</text>
<text x="473.00" y="191.20" font-size="6.2" text-anchor="start" font-weight="normal" fill="#222" >His-CD19hsCAR</text>
<text x="309.5" y="231.6" font-size="8.8" text-anchor="middle" fill="#222" transform="rotate(-90 309.5 231.6)">KD nmol/L</text>
<text x="-0.10" y="333.70" font-size="14.8" text-anchor="start" font-weight="bold" fill="#000" >F</text>
<line x1="33.50" y1="344.10" x2="33.50" y2="442.30" stroke="#111" stroke-width="1.1" />
<line x1="33.50" y1="442.30" x2="199.20" y2="442.30" stroke="#111" stroke-width="1.1" />
<line x1="30.30" y1="442.30" x2="33.50" y2="442.30" stroke="#111" stroke-width="1.0" />
<text x="28.90" y="444.50" font-size="6.3" text-anchor="end" font-weight="normal" fill="#222" >0</text>
<line x1="30.30" y1="422.70" x2="33.50" y2="422.70" stroke="#111" stroke-width="1.0" />
<text x="28.90" y="424.90" font-size="6.3" text-anchor="end" font-weight="normal" fill="#222" >20</text>
<line x1="30.30" y1="403.10" x2="33.50" y2="403.10" stroke="#111" stroke-width="1.0" />
<text x="28.90" y="405.30" font-size="6.3" text-anchor="end" font-weight="normal" fill="#222" >40</text>
<line x1="30.30" y1="383.50" x2="33.50" y2="383.50" stroke="#111" stroke-width="1.0" />
<text x="28.90" y="385.70" font-size="6.3" text-anchor="end" font-weight="normal" fill="#222" >60</text>
<line x1="30.30" y1="363.90" x2="33.50" y2="363.90" stroke="#111" stroke-width="1.0" />
<text x="28.90" y="366.10" font-size="6.3" text-anchor="end" font-weight="normal" fill="#222" >80</text>
<line x1="30.30" y1="344.30" x2="33.50" y2="344.30" stroke="#111" stroke-width="1.0" />
<text x="28.90" y="346.50" font-size="6.3" text-anchor="end" font-weight="normal" fill="#222" >100</text>
<line x1="50.00" y1="442.30" x2="50.00" y2="445.80" stroke="#111" stroke-width="1.0" />
<text x="53.80" y="451.0" font-size="6.4" text-anchor="end" fill="#222" transform="rotate(-45 53.80 451)">Day 0</text>
<line x1="82.90" y1="442.30" x2="82.90" y2="445.80" stroke="#111" stroke-width="1.0" />
<text x="86.70" y="451.0" font-size="6.4" text-anchor="end" fill="#222" transform="rotate(-45 86.70 451)">Day 5</text>
<line x1="115.60" y1="442.30" x2="115.60" y2="445.80" stroke="#111" stroke-width="1.0" />
<text x="119.40" y="451.0" font-size="6.4" text-anchor="end" fill="#222" transform="rotate(-45 119.40 451)">Day 7</text>
<line x1="148.40" y1="442.30" x2="148.40" y2="445.80" stroke="#111" stroke-width="1.0" />
<text x="152.20" y="451.0" font-size="6.4" text-anchor="end" fill="#222" transform="rotate(-45 152.20 451)">Day 10</text>
<line x1="181.20" y1="442.30" x2="181.20" y2="445.80" stroke="#111" stroke-width="1.0" />
<text x="185.00" y="451.0" font-size="6.4" text-anchor="end" fill="#222" transform="rotate(-45 185.00 451)">Day 14</text>
<polyline points="50.00,441.32 82.90,440.34 115.60,424.66 148.40,398.20 181.20,386.44" fill="none" stroke="#6dbd45" stroke-width="2.6" />
<path d="M47.70,443.12L52.30,443.12L50.00,439.12Z" fill="#6dbd45"/>
<path d="M80.60,442.14L85.20,442.14L82.90,438.14Z" fill="#6dbd45"/>
<line x1="115.60" y1="422.69" x2="115.60" y2="426.63" stroke="#6dbd45" stroke-width="1.1" />
<line x1="112.80" y1="422.69" x2="118.40" y2="422.69" stroke="#6dbd45" stroke-width="1.6" />
<line x1="112.80" y1="426.63" x2="118.40" y2="426.63" stroke="#6dbd45" stroke-width="1.6" />
<path d="M113.30,426.46L117.90,426.46L115.60,422.46Z" fill="#6dbd45"/>
<line x1="148.40" y1="395.25" x2="148.40" y2="401.15" stroke="#6dbd45" stroke-width="1.1" />
<line x1="145.60" y1="395.25" x2="151.20" y2="395.25" stroke="#6dbd45" stroke-width="1.6" />
<line x1="145.60" y1="401.15" x2="151.20" y2="401.15" stroke="#6dbd45" stroke-width="1.6" />
<path d="M146.10,400.00L150.70,400.00L148.40,396.00Z" fill="#6dbd45"/>
<line x1="181.20" y1="384.47" x2="181.20" y2="388.41" stroke="#6dbd45" stroke-width="1.1" />
<line x1="178.40" y1="384.47" x2="184.00" y2="384.47" stroke="#6dbd45" stroke-width="1.6" />
<line x1="178.40" y1="388.41" x2="184.00" y2="388.41" stroke="#6dbd45" stroke-width="1.6" />
<path d="M178.90,388.24L183.50,388.24L181.20,384.24Z" fill="#6dbd45"/>
<polyline points="50.00,441.32 82.90,440.34 115.60,422.70 148.40,402.61 181.20,389.38" fill="none" stroke="#111111" stroke-width="2.6" stroke-dasharray="5 2.5"/>
<circle cx="50.00" cy="441.32" r="2.1" fill="#111111"/>
<circle cx="82.90" cy="440.34" r="2.1" fill="#111111"/>
<line x1="115.60" y1="420.73" x2="115.60" y2="424.67" stroke="#111111" stroke-width="1.1" />
<line x1="112.80" y1="420.73" x2="118.40" y2="420.73" stroke="#111111" stroke-width="1.6" />
<line x1="112.80" y1="424.67" x2="118.40" y2="424.67" stroke="#111111" stroke-width="1.6" />
<circle cx="115.60" cy="422.70" r="2.1" fill="#111111"/>
<line x1="148.40" y1="399.17" x2="148.40" y2="406.05" stroke="#111111" stroke-width="1.1" />
<line x1="145.60" y1="399.17" x2="151.20" y2="399.17" stroke="#111111" stroke-width="1.6" />
<line x1="145.60" y1="406.05" x2="151.20" y2="406.05" stroke="#111111" stroke-width="1.6" />
<circle cx="148.40" cy="402.61" r="2.1" fill="#111111"/>
<line x1="181.20" y1="387.41" x2="181.20" y2="391.35" stroke="#111111" stroke-width="1.1" />
<line x1="178.40" y1="387.41" x2="184.00" y2="387.41" stroke="#111111" stroke-width="1.6" />
<line x1="178.40" y1="391.35" x2="184.00" y2="391.35" stroke="#111111" stroke-width="1.6" />
<circle cx="181.20" cy="389.38" r="2.1" fill="#111111"/>
<polyline points="50.00,441.32 82.90,439.36 115.60,420.74 148.40,391.34 181.20,381.54" fill="none" stroke="#2c5aa8" stroke-width="2.6" stroke-dasharray="3.6 2.3"/>
<rect x="48.10" y="439.42" width="3.8" height="3.8" fill="#2c5aa8"/>
<rect x="81.00" y="437.46" width="3.8" height="3.8" fill="#2c5aa8"/>
<line x1="115.60" y1="418.77" x2="115.60" y2="422.71" stroke="#2c5aa8" stroke-width="1.1" />
<line x1="112.80" y1="418.77" x2="118.40" y2="418.77" stroke="#2c5aa8" stroke-width="1.6" />
<line x1="112.80" y1="422.71" x2="118.40" y2="422.71" stroke="#2c5aa8" stroke-width="1.6" />
<rect x="113.70" y="418.84" width="3.8" height="3.8" fill="#2c5aa8"/>
<line x1="148.40" y1="388.88" x2="148.40" y2="393.80" stroke="#2c5aa8" stroke-width="1.1" />
<line x1="145.60" y1="388.88" x2="151.20" y2="388.88" stroke="#2c5aa8" stroke-width="1.6" />
<line x1="145.60" y1="393.80" x2="151.20" y2="393.80" stroke="#2c5aa8" stroke-width="1.6" />
<rect x="146.50" y="389.44" width="3.8" height="3.8" fill="#2c5aa8"/>
<line x1="181.20" y1="377.90" x2="181.20" y2="385.18" stroke="#2c5aa8" stroke-width="1.1" />
<line x1="178.40" y1="377.90" x2="184.00" y2="377.90" stroke="#2c5aa8" stroke-width="1.6" />
<line x1="178.40" y1="385.18" x2="184.00" y2="385.18" stroke="#2c5aa8" stroke-width="1.6" />
<rect x="179.30" y="379.64" width="3.8" height="3.8" fill="#2c5aa8"/>
<polyline points="50.00,441.32 82.90,438.38 115.60,417.80 148.40,381.54 181.20,362.92" fill="none" stroke="#e5322d" stroke-width="2.6" stroke-dasharray="5.5 2.5"/>
<path d="M47.60,439.52L52.40,439.52L50.00,443.62Z" fill="#e5322d"/>
<path d="M80.50,436.58L85.30,436.58L82.90,440.68Z" fill="#e5322d"/>
<line x1="115.60" y1="415.83" x2="115.60" y2="419.77" stroke="#e5322d" stroke-width="1.1" />
<line x1="112.80" y1="415.83" x2="118.40" y2="415.83" stroke="#e5322d" stroke-width="1.6" />
<line x1="112.80" y1="419.77" x2="118.40" y2="419.77" stroke="#e5322d" stroke-width="1.6" />
<path d="M113.20,416.00L118.00,416.00L115.60,420.10Z" fill="#e5322d"/>
<line x1="148.40" y1="378.59" x2="148.40" y2="384.49" stroke="#e5322d" stroke-width="1.1" />
<line x1="145.60" y1="378.59" x2="151.20" y2="378.59" stroke="#e5322d" stroke-width="1.6" />
<line x1="145.60" y1="384.49" x2="151.20" y2="384.49" stroke="#e5322d" stroke-width="1.6" />
<path d="M146.00,379.74L150.80,379.74L148.40,383.84Z" fill="#e5322d"/>
<line x1="181.20" y1="358.99" x2="181.20" y2="366.85" stroke="#e5322d" stroke-width="1.1" />
<line x1="178.40" y1="358.99" x2="184.00" y2="358.99" stroke="#e5322d" stroke-width="1.6" />
<line x1="178.40" y1="366.85" x2="184.00" y2="366.85" stroke="#e5322d" stroke-width="1.6" />
<path d="M178.80,361.12L183.60,361.12L181.20,365.22Z" fill="#e5322d"/>
<line x1="37.00" y1="345.40" x2="48.90" y2="345.40" stroke="#6dbd45" stroke-width="2.4" />
<rect x="37.00" y="355.00" width="8.00" height="3.00" fill="#111" />
<rect x="46.80" y="355.30" width="1.80" height="2.40" fill="#111" />
<rect x="37.00" y="366.70" width="2.20" height="2.20" fill="#2c5aa8" />
<rect x="40.80" y="366.30" width="6.40" height="2.80" fill="#2c5aa8" />
<rect x="37.00" y="378.00" width="2.40" height="2.40" fill="#e5322d" />
<rect x="40.60" y="377.60" width="8.00" height="3.00" fill="#e5322d" />
<text x="55.50" y="348.20" font-size="6.25" text-anchor="start" font-weight="normal" fill="#222" >CD19mCAR</text>
<text x="55.50" y="359.30" font-size="6.25" text-anchor="start" font-weight="normal" fill="#222" >CD19mCAR with SmAb</text>
<text x="55.50" y="370.60" font-size="6.25" text-anchor="start" font-weight="normal" fill="#222" >CD19hsCAR w/o SmAb</text>
<text x="55.50" y="381.90" font-size="6.25" text-anchor="start" font-weight="normal" fill="#222" >CD19hsCAR with SmAb</text>
<line x1="188.70" y1="358.50" x2="188.70" y2="390.00" stroke="#777" stroke-width="1.4" />
<text x="192.3" y="377.8" font-size="4.8" fill="#333"><tspan font-style="italic">P</tspan> &lt; 0.01</text>
<text x="176.30" y="357.60" font-size="5.6" text-anchor="middle" font-weight="normal" fill="#222" >**</text>
<text x="11.9" y="391.4" font-size="6.1" text-anchor="middle" fill="#222" transform="rotate(-90 11.9 391.4)">Expansion fold of CD3<tspan font-size="4.4" dy="-2.4">+</tspan><tspan dy="2.4"> T cells</tspan></text>
<text x="302.70" y="333.50" font-size="14.8" text-anchor="start" font-weight="bold" fill="#000" >G</text>
<line x1="337.70" y1="345.00" x2="337.70" y2="442.90" stroke="#111" stroke-width="1.1" />
<line x1="337.70" y1="442.90" x2="495.50" y2="442.90" stroke="#111" stroke-width="1.1" />
<rect x="337.70" y="351.40" width="103.40" height="13.10" fill="#ec3027" />
<rect x="337.70" y="351.40" width="1.00" height="13.10" fill="#9b9ba3" />
<line x1="334.20" y1="357.95" x2="337.70" y2="357.95" stroke="#111" stroke-width="1.0" />
<text x="330.80" y="360.15" font-size="6.2" text-anchor="end" font-weight="normal" fill="#222" >CD19 hsCAR with SmAb</text>
<rect x="337.70" y="375.30" width="105.70" height="13.70" fill="#ec3027" />
<rect x="337.70" y="375.30" width="5.00" height="13.70" fill="#9b9ba3" />
<rect x="342.70" y="375.30" width="1.80" height="13.70" fill="#7f8a6a" />
<line x1="334.20" y1="382.15" x2="337.70" y2="382.15" stroke="#111" stroke-width="1.0" />
<text x="330.80" y="384.35" font-size="6.2" text-anchor="end" font-weight="normal" fill="#222" >CD19 hsCAR w/o SmAb</text>
<rect x="337.70" y="399.80" width="103.40" height="12.70" fill="#ec3027" />
<rect x="337.70" y="399.80" width="4.00" height="12.70" fill="#9b9ba3" />
<rect x="341.70" y="399.80" width="0.40" height="12.70" fill="#7f8a6a" />
<line x1="334.20" y1="406.15" x2="337.70" y2="406.15" stroke="#111" stroke-width="1.0" />
<text x="330.80" y="408.35" font-size="6.2" text-anchor="end" font-weight="normal" fill="#222" >CD19 mCAR with SmAb</text>
<rect x="337.70" y="424.30" width="106.00" height="13.10" fill="#ec3027" />
<rect x="337.70" y="424.30" width="6.00" height="13.10" fill="#9b9ba3" />
<rect x="343.70" y="424.30" width="1.00" height="13.10" fill="#7f8a6a" />
<line x1="334.20" y1="430.85" x2="337.70" y2="430.85" stroke="#111" stroke-width="1.0" />
<text x="330.80" y="433.05" font-size="6.2" text-anchor="end" font-weight="normal" fill="#222" >CD19 mCAR</text>
<line x1="443.40" y1="382.00" x2="445.40" y2="382.00" stroke="#d02a24" stroke-width="1.0" />
<line x1="445.40" y1="379.60" x2="445.40" y2="384.60" stroke="#c0282a" stroke-width="1.0" />
<line x1="337.70" y1="442.90" x2="337.70" y2="446.20" stroke="#111" stroke-width="1.0" />
<text x="339.70" y="449.2" font-size="6.2" text-anchor="end" fill="#222" transform="rotate(-45 339.70 449.2)">0</text>
<line x1="390.20" y1="442.90" x2="390.20" y2="446.20" stroke="#111" stroke-width="1.0" />
<text x="392.20" y="449.2" font-size="6.2" text-anchor="end" fill="#222" transform="rotate(-45 392.20 449.2)">50</text>
<line x1="442.70" y1="442.90" x2="442.70" y2="446.20" stroke="#111" stroke-width="1.0" />
<text x="444.70" y="449.2" font-size="6.2" text-anchor="end" fill="#222" transform="rotate(-45 444.70 449.2)">100</text>
<line x1="495.20" y1="442.90" x2="495.20" y2="446.20" stroke="#111" stroke-width="1.0" />
<text x="497.20" y="449.2" font-size="6.2" text-anchor="end" fill="#222" transform="rotate(-45 497.20 449.2)">150</text>
<text x="424.70" y="465.20" font-size="6.9" text-anchor="middle" font-weight="normal" fill="#222" >Populations of final products (%)</text>
<rect x="449.50" y="355.00" width="13.30" height="5.40" fill="#ec3027" />
<text x="464.6" y="359.90" font-size="6.3" fill="#222">CD3<tspan font-size="3.8" dy="-2.4">+</tspan></text>
<rect x="449.50" y="366.20" width="13.30" height="5.40" fill="#9b9ba3" />
<text x="464.6" y="371.10" font-size="6.3" fill="#222">CD3<tspan font-size="3.8" dy="-2.4">−</tspan><tspan dy="2.4">/CD56</tspan><tspan font-size="3.8" dy="-2.4">+</tspan></text>
<rect x="449.50" y="377.30" width="13.30" height="5.40" fill="#2452a4" />
<text x="464.6" y="382.20" font-size="6.3" fill="#222">CD3<tspan font-size="3.8" dy="-2.4">−</tspan><tspan dy="2.4">/CD19</tspan><tspan font-size="3.8" dy="-2.4">+</tspan></text>
<rect x="449.50" y="388.50" width="13.30" height="5.40" fill="#5fbf4a" />
<text x="464.6" y="393.40" font-size="6.3" fill="#222">CD3<tspan font-size="3.8" dy="-2.4">−</tspan><tspan dy="2.4">/CD14</tspan><tspan font-size="3.8" dy="-2.4">+</tspan></text>
<text x="-0.10" y="494.70" font-size="14.8" text-anchor="start" font-weight="bold" fill="#000" >H</text>
<line x1="33.20" y1="494.70" x2="33.20" y2="607.00" stroke="#111" stroke-width="1.1" />
<line x1="33.20" y1="607.00" x2="199.00" y2="607.00" stroke="#111" stroke-width="1.1" />
<line x1="30.00" y1="607.00" x2="33.20" y2="607.00" stroke="#111" stroke-width="1.0" />
<text x="28.80" y="609.10" font-size="6.0" text-anchor="end" font-weight="normal" fill="#222" >0</text>
<line x1="30.00" y1="579.00" x2="33.20" y2="579.00" stroke="#111" stroke-width="1.0" />
<text x="28.80" y="581.10" font-size="6.0" text-anchor="end" font-weight="normal" fill="#222" >20</text>
<line x1="30.00" y1="551.00" x2="33.20" y2="551.00" stroke="#111" stroke-width="1.0" />
<text x="28.80" y="553.10" font-size="6.0" text-anchor="end" font-weight="normal" fill="#222" >40</text>
<line x1="30.00" y1="523.00" x2="33.20" y2="523.00" stroke="#111" stroke-width="1.0" />
<text x="28.80" y="525.10" font-size="6.0" text-anchor="end" font-weight="normal" fill="#222" >60</text>
<line x1="30.00" y1="495.00" x2="33.20" y2="495.00" stroke="#111" stroke-width="1.0" />
<text x="28.80" y="497.10" font-size="6.0" text-anchor="end" font-weight="normal" fill="#222" >80</text>
<rect x="39.30" y="555.50" width="28.80" height="51.50" fill="#9b9ba5" />
<line x1="53.70" y1="555.50" x2="53.70" y2="553.40" stroke="#9b9ba5" stroke-width="1.2" />
<line x1="47.30" y1="553.40" x2="61.80" y2="553.40" stroke="#9b9ba5" stroke-width="1.3" />
<line x1="53.70" y1="607.00" x2="53.70" y2="610.20" stroke="#111" stroke-width="1.0" />
<text x="57.70" y="615.00" font-size="6.0" text-anchor="end" fill="#222" transform="rotate(-45 57.70 615.00)">CD19mCAR</text>
<rect x="80.90" y="558.90" width="28.70" height="48.10" fill="#2958a5" />
<line x1="95.25" y1="558.90" x2="95.25" y2="557.60" stroke="#2958a5" stroke-width="1.2" />
<line x1="87.50" y1="557.60" x2="103.00" y2="557.60" stroke="#2958a5" stroke-width="1.3" />
<line x1="95.25" y1="607.00" x2="95.25" y2="610.20" stroke="#111" stroke-width="1.0" />
<text x="99.25" y="615.00" font-size="6.0" text-anchor="end" fill="#222" transform="rotate(-45 99.25 615.00)">CD19mCAR with SmAb</text>
<rect x="122.40" y="554.40" width="28.70" height="52.60" fill="#72be48" />
<line x1="136.75" y1="554.40" x2="136.75" y2="551.30" stroke="#72be48" stroke-width="1.2" />
<line x1="128.60" y1="551.30" x2="144.20" y2="551.30" stroke="#72be48" stroke-width="1.3" />
<line x1="136.75" y1="607.00" x2="136.75" y2="610.20" stroke="#111" stroke-width="1.0" />
<text x="140.75" y="615.00" font-size="6.0" text-anchor="end" fill="#222" transform="rotate(-45 140.75 615.00)">CD19hsCAR w/o SmAb</text>
<rect x="163.30" y="515.30" width="28.70" height="91.70" fill="#ee3127" />
<line x1="177.65" y1="515.30" x2="177.65" y2="510.10" stroke="#ee3127" stroke-width="1.2" />
<line x1="170.20" y1="510.10" x2="185.80" y2="510.10" stroke="#ee3127" stroke-width="1.3" />
<line x1="177.65" y1="607.00" x2="177.65" y2="610.20" stroke="#111" stroke-width="1.0" />
<text x="181.65" y="615.00" font-size="6.0" text-anchor="end" fill="#222" transform="rotate(-45 181.65 615.00)">CD19hsCAR with SmAb</text>
<line x1="58.70" y1="493.80" x2="178.10" y2="493.80" stroke="#111" stroke-width="1.2" />
<text x="121.70" y="491.80" font-size="4.6" text-anchor="middle" font-weight="normal" fill="#222" >**</text>
<line x1="141.50" y1="506.00" x2="178.10" y2="506.00" stroke="#111" stroke-width="1.2" />
<text x="160.80" y="504.30" font-size="4.6" text-anchor="middle" font-weight="normal" fill="#222" >**</text>
<text x="13.9" y="547.5" font-size="7.1" text-anchor="middle" fill="#222" transform="rotate(-90 13.9 547.5)">CAR %</text>
<polygon points="309.50,559.40 309.50,538.84 310.00,537.37 310.50,535.97 311.00,533.09 311.50,529.87 312.00,526.78 312.50,523.58 313.00,520.79 313.50,518.63 314.00,516.20 314.50,513.37 315.00,511.03 315.50,508.27 316.00,505.99 316.50,503.18 317.00,501.21 317.50,500.39 318.00,502.26 318.50,504.46 319.00,507.56 319.50,510.28 320.00,512.76 320.50,516.29 321.00,520.23 321.50,524.01 322.00,527.61 322.50,531.49 323.00,534.31 323.50,537.12 324.00,540.00 324.50,543.03 325.00,544.87 325.50,546.45 326.00,547.91 326.50,549.56 327.00,550.52 327.50,550.81 328.00,551.59 328.50,552.21 329.00,553.07 329.50,553.37 330.00,553.65 330.50,553.92 331.00,553.77 331.50,553.54 332.00,553.48 332.50,553.32 333.00,553.47 333.50,553.17 334.00,553.13 334.50,553.17 335.00,552.93 335.50,552.69 336.00,552.59 336.50,552.68 337.00,552.58 337.50,552.76 338.00,552.61 338.50,552.30 339.00,552.41 339.50,552.41 340.00,552.14 340.50,551.97 341.00,551.73 341.50,551.37 342.00,550.85 342.50,550.33 343.00,549.72 343.50,549.35 344.00,548.91 344.50,548.48 345.00,548.36 345.50,548.04 346.00,547.42 346.50,546.98 347.00,546.83 347.50,546.59 348.00,546.37 348.50,545.90 349.00,545.40 349.50,545.24 350.00,545.09 350.50,544.69 351.00,544.72 351.50,544.30 352.00,543.81 352.50,543.68 353.00,543.43 353.50,543.22 354.00,543.64 354.50,544.01 355.00,544.97 355.50,544.52 356.00,543.96 356.50,543.38 357.00,543.13 357.50,543.67 358.00,544.37 358.50,544.93 359.00,545.56 359.50,546.30 360.00,546.20 360.50,546.11 361.00,546.06 361.50,545.71 362.00,545.61 362.50,545.57 363.00,545.47 363.50,545.55 364.00,546.07 364.50,546.64 365.00,547.27 365.50,548.03 366.00,548.05 366.50,548.07 367.00,547.89 367.50,547.77 368.00,547.90 368.50,548.41 369.00,548.91 369.50,549.67 370.00,549.92 370.50,550.51 371.00,551.31 371.50,551.94 372.00,552.54 372.50,552.81 373.00,553.63 373.50,554.30 374.00,554.67 374.50,555.28 375.00,555.83 375.50,556.21 376.00,556.47 376.50,557.05 377.00,557.43 377.50,557.66 378.00,558.04 378.50,558.26 379.00,558.36 379.50,558.72 380.00,558.72 380.50,558.87 381.00,559.14 381.50,559.25 382.00,558.97 382.50,559.20 383.00,559.40 383.50,559.29 384.00,559.26 384.50,559.40 385.00,559.40 385.50,559.40 386.00,559.30 386.50,559.40 387.00,559.31 387.50,559.32 388.00,559.38 388.50,559.40 389.00,559.19 389.50,559.27 390.00,559.39 390.50,559.40 391.00,559.33 391.50,559.40 392.00,559.37 392.50,559.40 393.00,559.34 393.50,559.40 394.00,559.40 394.50,559.19 395.00,559.23 395.50,559.40 396.00,559.24 396.50,559.40 397.00,559.20 397.50,559.29 398.00,559.40 398.50,559.40 399.00,559.40 399.50,559.23 400.00,559.40 400.50,559.26 401.00,559.19 401.50,559.37 402.00,559.40 402.50,559.24 403.00,559.19 403.50,559.31 404.00,559.40 404.00,559.40" fill="#f4a0a7"/>
<polygon points="309.50,559.40 309.50,536.51 310.00,535.21 310.50,533.63 311.00,530.73 311.50,528.15 312.00,525.56 312.50,522.91 313.00,520.11 313.50,517.80 314.00,515.25 314.50,512.86 315.00,510.18 315.50,507.77 316.00,505.77 316.50,503.29 317.00,502.00 317.50,501.13 318.00,503.24 318.50,505.45 319.00,508.47 319.50,511.22 320.00,514.11 320.50,517.77 321.00,521.73 321.50,525.19 322.00,528.98 322.50,532.77 323.00,535.36 323.50,538.52 324.00,541.12 324.50,544.22 325.00,545.93 325.50,547.08 326.00,548.87 326.50,550.11 327.00,550.91 327.50,551.34 328.00,552.08 328.50,552.63 329.00,553.19 329.50,553.47 330.00,553.77 330.50,553.55 331.00,553.52 331.50,553.80 332.00,553.55 332.50,553.69 333.00,553.64 333.50,553.51 334.00,553.04 334.50,552.96 335.00,552.83 335.50,552.93 336.00,552.69 336.50,552.55 337.00,552.67 337.50,552.52 338.00,552.62 338.50,552.62 339.00,552.47 339.50,551.99 340.00,551.93 340.50,551.56 341.00,551.43 341.50,550.97 342.00,550.20 342.50,549.63 343.00,549.45 343.50,548.62 344.00,548.33 344.50,547.88 345.00,547.18 345.50,547.19 346.00,546.74 346.50,546.05 347.00,545.94 347.50,545.71 348.00,545.33 348.50,544.93 349.00,544.42 349.50,544.54 350.00,544.01 350.50,544.08 351.00,543.65 351.50,543.53 352.00,543.66 352.50,543.53 353.00,543.28 353.50,543.30 354.00,543.38 354.50,543.98 355.00,544.32 355.50,543.82 356.00,543.80 356.50,543.34 357.00,543.22 357.50,543.66 358.00,544.16 358.50,544.16 359.00,544.52 359.50,544.90 360.00,545.51 360.50,545.47 361.00,545.29 361.50,545.13 362.00,545.22 362.50,545.05 363.00,544.96 363.50,545.24 364.00,545.51 364.50,546.02 365.00,546.45 365.50,546.93 366.00,546.98 366.50,546.75 367.00,547.07 367.50,547.06 368.00,547.23 368.50,547.61 369.00,548.36 369.50,548.91 370.00,549.41 370.50,549.93 371.00,550.26 371.50,550.89 372.00,551.80 372.50,552.44 373.00,553.00 373.50,553.64 374.00,554.29 374.50,554.96 375.00,555.48 375.50,555.80 376.00,556.30 376.50,556.51 377.00,557.15 377.50,557.57 378.00,557.59 378.50,557.90 379.00,557.84 379.50,558.14 380.00,558.14 380.50,558.62 381.00,558.63 381.50,558.60 382.00,559.02 382.50,558.73 383.00,559.17 383.50,558.99 384.00,558.99 384.50,559.16 385.00,559.40 385.50,559.40 386.00,559.39 386.50,559.21 387.00,559.40 387.50,559.23 388.00,559.40 388.50,559.22 389.00,559.40 389.50,559.40 390.00,559.22 390.50,559.27 391.00,559.22 391.50,559.25 392.00,559.29 392.50,559.32 393.00,559.40 393.50,559.40 394.00,559.40 394.50,559.30 395.00,559.33 395.50,559.40 396.00,559.40 396.50,559.19 397.00,559.26 397.50,559.38 398.00,559.38 398.50,559.24 399.00,559.40 399.50,559.40 400.00,559.40 400.50,559.40 401.00,559.40 401.50,559.33 402.00,559.40 402.50,559.37 403.00,559.40 403.50,559.40 404.00,559.40 404.00,559.40" fill="#8dd5e8"/>
<polygon points="309.50,559.40 309.50,538.84 310.00,537.37 310.50,535.97 311.00,533.09 311.50,529.87 312.00,526.78 312.50,523.58 313.00,520.79 313.50,518.63 314.00,516.20 314.50,513.37 315.00,511.03 315.50,508.27 316.00,505.99 316.50,503.29 317.00,502.00 317.50,501.13 318.00,503.24 318.50,505.45 319.00,508.47 319.50,511.22 320.00,514.11 320.50,517.77 321.00,521.73 321.50,525.19 322.00,528.98 322.50,532.77 323.00,535.36 323.50,538.52 324.00,541.12 324.50,544.22 325.00,545.93 325.50,547.08 326.00,548.87 326.50,550.11 327.00,550.91 327.50,551.34 328.00,552.08 328.50,552.63 329.00,553.19 329.50,553.47 330.00,553.77 330.50,553.92 331.00,553.77 331.50,553.80 332.00,553.55 332.50,553.69 333.00,553.64 333.50,553.51 334.00,553.13 334.50,553.17 335.00,552.93 335.50,552.93 336.00,552.69 336.50,552.68 337.00,552.67 337.50,552.76 338.00,552.62 338.50,552.62 339.00,552.47 339.50,552.41 340.00,552.14 340.50,551.97 341.00,551.73 341.50,551.37 342.00,550.85 342.50,550.33 343.00,549.72 343.50,549.35 344.00,548.91 344.50,548.48 345.00,548.36 345.50,548.04 346.00,547.42 346.50,546.98 347.00,546.83 347.50,546.59 348.00,546.37 348.50,545.90 349.00,545.40 349.50,545.24 350.00,545.09 350.50,544.69 351.00,544.72 351.50,544.30 352.00,543.81 352.50,543.68 353.00,543.43 353.50,543.30 354.00,543.64 354.50,544.01 355.00,544.97 355.50,544.52 356.00,543.96 356.50,543.38 357.00,543.22 357.50,543.67 358.00,544.37 358.50,544.93 359.00,545.56 359.50,546.30 360.00,546.20 360.50,546.11 361.00,546.06 361.50,545.71 362.00,545.61 362.50,545.57 363.00,545.47 363.50,545.55 364.00,546.07 364.50,546.64 365.00,547.27 365.50,548.03 366.00,548.05 366.50,548.07 367.00,547.89 367.50,547.77 368.00,547.90 368.50,548.41 369.00,548.91 369.50,549.67 370.00,549.92 370.50,550.51 371.00,551.31 371.50,551.94 372.00,552.54 372.50,552.81 373.00,553.63 373.50,554.30 374.00,554.67 374.50,555.28 375.00,555.83 375.50,556.21 376.00,556.47 376.50,557.05 377.00,557.43 377.50,557.66 378.00,558.04 378.50,558.26 379.00,558.36 379.50,558.72 380.00,558.72 380.50,558.87 381.00,559.14 381.50,559.25 382.00,559.02 382.50,559.20 383.00,559.40 383.50,559.29 384.00,559.26 384.50,559.40 385.00,559.40 385.50,559.40 386.00,559.39 386.50,559.40 387.00,559.40 387.50,559.32 388.00,559.40 388.50,559.40 389.00,559.40 389.50,559.40 390.00,559.39 390.50,559.40 391.00,559.33 391.50,559.40 392.00,559.37 392.50,559.40 393.00,559.40 393.50,559.40 394.00,559.40 394.50,559.30 395.00,559.33 395.50,559.40 396.00,559.40 396.50,559.40 397.00,559.26 397.50,559.38 398.00,559.40 398.50,559.40 399.00,559.40 399.50,559.40 400.00,559.40 400.50,559.40 401.00,559.40 401.50,559.37 402.00,559.40 402.50,559.37 403.00,559.40 403.50,559.40 404.00,559.40 404.00,559.40" fill="#84acc1"/>
<polyline points="309.50,538.84 310.00,537.37 310.50,535.97 311.00,533.09 311.50,529.87 312.00,526.78 312.50,523.58 313.00,520.79 313.50,518.63 314.00,516.20 314.50,513.37 315.00,511.03 315.50,508.27 316.00,505.99 316.50,503.18 317.00,501.21 317.50,500.39 318.00,502.26 318.50,504.46 319.00,507.56 319.50,510.28 320.00,512.76 320.50,516.29 321.00,520.23 321.50,524.01 322.00,527.61 322.50,531.49 323.00,534.31 323.50,537.12 324.00,540.00 324.50,543.03 325.00,544.87 325.50,546.45 326.00,547.91 326.50,549.56 327.00,550.52 327.50,550.81 328.00,551.59 328.50,552.21 329.00,553.07 329.50,553.37 330.00,553.65 330.50,553.92 331.00,553.77 331.50,553.54 332.00,553.48 332.50,553.32 333.00,553.47 333.50,553.17 334.00,553.13 334.50,553.17 335.00,552.93 335.50,552.69 336.00,552.59 336.50,552.68 337.00,552.58 337.50,552.76 338.00,552.61 338.50,552.30 339.00,552.41 339.50,552.41 340.00,552.14 340.50,551.97 341.00,551.73 341.50,551.37 342.00,550.85 342.50,550.33 343.00,549.72 343.50,549.35 344.00,548.91 344.50,548.48 345.00,548.36 345.50,548.04 346.00,547.42 346.50,546.98 347.00,546.83 347.50,546.59 348.00,546.37 348.50,545.90 349.00,545.40 349.50,545.24 350.00,545.09 350.50,544.69 351.00,544.72 351.50,544.30 352.00,543.81 352.50,543.68 353.00,543.43 353.50,543.22 354.00,543.64 354.50,544.01 355.00,544.97 355.50,544.52 356.00,543.96 356.50,543.38 357.00,543.13 357.50,543.67 358.00,544.37 358.50,544.93 359.00,545.56 359.50,546.30 360.00,546.20 360.50,546.11 361.00,546.06 361.50,545.71 362.00,545.61 362.50,545.57 363.00,545.47 363.50,545.55 364.00,546.07 364.50,546.64 365.00,547.27 365.50,548.03 366.00,548.05 366.50,548.07 367.00,547.89 367.50,547.77 368.00,547.90 368.50,548.41 369.00,548.91 369.50,549.67 370.00,549.92 370.50,550.51 371.00,551.31 371.50,551.94 372.00,552.54 372.50,552.81 373.00,553.63 373.50,554.30 374.00,554.67 374.50,555.28 375.00,555.83 375.50,556.21 376.00,556.47 376.50,557.05 377.00,557.43 377.50,557.66 378.00,558.04 378.50,558.26 379.00,558.36 379.50,558.72 380.00,558.72 380.50,558.87 381.00,559.14 381.50,559.25 382.00,558.97 382.50,559.20 383.50,559.29 384.00,559.26 386.00,559.30 387.00,559.31 387.50,559.32 389.00,559.19 389.50,559.27 394.50,559.19 395.00,559.23 396.00,559.24 397.00,559.20 397.50,559.29 399.50,559.23 400.50,559.26 401.00,559.19 402.50,559.24 403.00,559.19 403.50,559.31" fill="none" stroke="#d46e7a" stroke-width="0.7" stroke-opacity="0.85"/>
<polyline points="309.50,536.51 310.00,535.21 310.50,533.63 311.00,530.73 311.50,528.15 312.00,525.56 312.50,522.91 313.00,520.11 313.50,517.80 314.00,515.25 314.50,512.86 315.00,510.18 315.50,507.77 316.00,505.77 316.50,503.29 317.00,502.00 317.50,501.13 318.00,503.24 318.50,505.45 319.00,508.47 319.50,511.22 320.00,514.11 320.50,517.77 321.00,521.73 321.50,525.19 322.00,528.98 322.50,532.77 323.00,535.36 323.50,538.52 324.00,541.12 324.50,544.22 325.00,545.93 325.50,547.08 326.00,548.87 326.50,550.11 327.00,550.91 327.50,551.34 328.00,552.08 328.50,552.63 329.00,553.19 329.50,553.47 330.00,553.77 330.50,553.55 331.00,553.52 331.50,553.80 332.00,553.55 332.50,553.69 333.00,553.64 333.50,553.51 334.00,553.04 334.50,552.96 335.00,552.83 335.50,552.93 336.00,552.69 336.50,552.55 337.00,552.67 337.50,552.52 338.00,552.62 338.50,552.62 339.00,552.47 339.50,551.99 340.00,551.93 340.50,551.56 341.00,551.43 341.50,550.97 342.00,550.20 342.50,549.63 343.00,549.45 343.50,548.62 344.00,548.33 344.50,547.88 345.00,547.18 345.50,547.19 346.00,546.74 346.50,546.05 347.00,545.94 347.50,545.71 348.00,545.33 348.50,544.93 349.00,544.42 349.50,544.54 350.00,544.01 350.50,544.08 351.00,543.65 351.50,543.53 352.00,543.66 352.50,543.53 353.00,543.28 353.50,543.30 354.00,543.38 354.50,543.98 355.00,544.32 355.50,543.82 356.00,543.80 356.50,543.34 357.00,543.22 357.50,543.66 358.00,544.16 358.50,544.16 359.00,544.52 359.50,544.90 360.00,545.51 360.50,545.47 361.00,545.29 361.50,545.13 362.00,545.22 362.50,545.05 363.00,544.96 363.50,545.24 364.00,545.51 364.50,546.02 365.00,546.45 365.50,546.93 366.00,546.98 366.50,546.75 367.00,547.07 367.50,547.06 368.00,547.23 368.50,547.61 369.00,548.36 369.50,548.91 370.00,549.41 370.50,549.93 371.00,550.26 371.50,550.89 372.00,551.80 372.50,552.44 373.00,553.00 373.50,553.64 374.00,554.29 374.50,554.96 375.00,555.48 375.50,555.80 376.00,556.30 376.50,556.51 377.00,557.15 377.50,557.57 378.00,557.59 378.50,557.90 379.00,557.84 379.50,558.14 380.00,558.14 380.50,558.62 381.00,558.63 381.50,558.60 382.00,559.02 382.50,558.73 383.00,559.17 383.50,558.99 384.00,558.99 384.50,559.16 386.50,559.21 387.50,559.23 388.50,559.22 390.00,559.22 390.50,559.27 391.00,559.22 391.50,559.25 392.00,559.29 392.50,559.32 394.50,559.30 395.00,559.33 396.50,559.19 397.00,559.26 398.50,559.24" fill="none" stroke="#45b0cc" stroke-width="0.7" stroke-opacity="0.85"/>
<line x1="309.50" y1="493.60" x2="404.20" y2="493.60" stroke="#a0a0a0" stroke-width="0.8" />
<line x1="404.20" y1="493.60" x2="404.20" y2="559.40" stroke="#a0a0a0" stroke-width="0.8" />
<line x1="309.50" y1="493.60" x2="309.50" y2="559.90" stroke="#222" stroke-width="0.9" />
<line x1="309.50" y1="559.40" x2="404.20" y2="559.40" stroke="#222" stroke-width="0.9" />
<line x1="340.60" y1="493.60" x2="340.60" y2="559.40" stroke="#1a1a1a" stroke-width="0.9" stroke-dasharray="1.0 0.5"/>
<line x1="306.20" y1="559.40" x2="309.50" y2="559.40" stroke="#222" stroke-width="0.8" />
<text x="305.20" y="561.20" font-size="5.0" text-anchor="end" font-weight="normal" fill="#222" >0</text>
<line x1="306.20" y1="540.90" x2="309.50" y2="540.90" stroke="#222" stroke-width="0.8" />
<text x="305.20" y="542.70" font-size="5.0" text-anchor="end" font-weight="normal" fill="#222" >50</text>
<line x1="306.20" y1="522.40" x2="309.50" y2="522.40" stroke="#222" stroke-width="0.8" />
<text x="305.20" y="524.20" font-size="5.0" text-anchor="end" font-weight="normal" fill="#222" >100</text>
<line x1="306.20" y1="503.90" x2="309.50" y2="503.90" stroke="#222" stroke-width="0.8" />
<text x="305.20" y="505.70" font-size="5.0" text-anchor="end" font-weight="normal" fill="#222" >150</text>
<line x1="311.60" y1="559.40" x2="311.60" y2="561.20" stroke="#222" stroke-width="0.8" />
<text x="312.00" y="568.20" font-size="5.0" text-anchor="middle" fill="#222">10<tspan font-size="3.2" dy="-2.2">0</tspan></text>
<line x1="318.43" y1="559.40" x2="318.43" y2="560.40" stroke="#444" stroke-width="0.4" />
<line x1="322.43" y1="559.40" x2="322.43" y2="560.40" stroke="#444" stroke-width="0.4" />
<line x1="325.27" y1="559.40" x2="325.27" y2="560.40" stroke="#444" stroke-width="0.4" />
<line x1="327.47" y1="559.40" x2="327.47" y2="560.40" stroke="#444" stroke-width="0.4" />
<line x1="329.26" y1="559.40" x2="329.26" y2="560.40" stroke="#444" stroke-width="0.4" />
<line x1="330.78" y1="559.40" x2="330.78" y2="560.40" stroke="#444" stroke-width="0.4" />
<line x1="332.10" y1="559.40" x2="332.10" y2="560.40" stroke="#444" stroke-width="0.4" />
<line x1="333.26" y1="559.40" x2="333.26" y2="560.40" stroke="#444" stroke-width="0.4" />
<line x1="334.30" y1="559.40" x2="334.30" y2="561.20" stroke="#222" stroke-width="0.8" />
<text x="334.70" y="568.20" font-size="5.0" text-anchor="middle" fill="#222">10<tspan font-size="3.2" dy="-2.2">1</tspan></text>
<line x1="341.13" y1="559.40" x2="341.13" y2="560.40" stroke="#444" stroke-width="0.4" />
<line x1="345.13" y1="559.40" x2="345.13" y2="560.40" stroke="#444" stroke-width="0.4" />
<line x1="347.97" y1="559.40" x2="347.97" y2="560.40" stroke="#444" stroke-width="0.4" />
<line x1="350.17" y1="559.40" x2="350.17" y2="560.40" stroke="#444" stroke-width="0.4" />
<line x1="351.96" y1="559.40" x2="351.96" y2="560.40" stroke="#444" stroke-width="0.4" />
<line x1="353.48" y1="559.40" x2="353.48" y2="560.40" stroke="#444" stroke-width="0.4" />
<line x1="354.80" y1="559.40" x2="354.80" y2="560.40" stroke="#444" stroke-width="0.4" />
<line x1="355.96" y1="559.40" x2="355.96" y2="560.40" stroke="#444" stroke-width="0.4" />
<line x1="357.00" y1="559.40" x2="357.00" y2="561.20" stroke="#222" stroke-width="0.8" />
<text x="357.40" y="568.20" font-size="5.0" text-anchor="middle" fill="#222">10<tspan font-size="3.2" dy="-2.2">2</tspan></text>
<line x1="363.83" y1="559.40" x2="363.83" y2="560.40" stroke="#444" stroke-width="0.4" />
<line x1="367.83" y1="559.40" x2="367.83" y2="560.40" stroke="#444" stroke-width="0.4" />
<line x1="370.67" y1="559.40" x2="370.67" y2="560.40" stroke="#444" stroke-width="0.4" />
<line x1="372.87" y1="559.40" x2="372.87" y2="560.40" stroke="#444" stroke-width="0.4" />
<line x1="374.66" y1="559.40" x2="374.66" y2="560.40" stroke="#444" stroke-width="0.4" />
<line x1="376.18" y1="559.40" x2="376.18" y2="560.40" stroke="#444" stroke-width="0.4" />
<line x1="377.50" y1="559.40" x2="377.50" y2="560.40" stroke="#444" stroke-width="0.4" />
<line x1="378.66" y1="559.40" x2="378.66" y2="560.40" stroke="#444" stroke-width="0.4" />
<line x1="379.70" y1="559.40" x2="379.70" y2="561.20" stroke="#222" stroke-width="0.8" />
<text x="380.10" y="568.20" font-size="5.0" text-anchor="middle" fill="#222">10<tspan font-size="3.2" dy="-2.2">3</tspan></text>
<line x1="386.53" y1="559.40" x2="386.53" y2="560.40" stroke="#444" stroke-width="0.4" />
<line x1="390.53" y1="559.40" x2="390.53" y2="560.40" stroke="#444" stroke-width="0.4" />
<line x1="393.37" y1="559.40" x2="393.37" y2="560.40" stroke="#444" stroke-width="0.4" />
<line x1="395.57" y1="559.40" x2="395.57" y2="560.40" stroke="#444" stroke-width="0.4" />
<line x1="397.36" y1="559.40" x2="397.36" y2="560.40" stroke="#444" stroke-width="0.4" />
<line x1="398.88" y1="559.40" x2="398.88" y2="560.40" stroke="#444" stroke-width="0.4" />
<line x1="400.20" y1="559.40" x2="400.20" y2="560.40" stroke="#444" stroke-width="0.4" />
<line x1="401.36" y1="559.40" x2="401.36" y2="560.40" stroke="#444" stroke-width="0.4" />
<line x1="402.40" y1="559.40" x2="402.40" y2="561.20" stroke="#222" stroke-width="0.8" />
<text x="402.80" y="568.20" font-size="5.0" text-anchor="middle" fill="#222">10<tspan font-size="3.2" dy="-2.2">4</tspan></text>
<text x="361.00" y="573.80" font-size="6.6" text-anchor="middle" font-weight="normal" fill="#222" >CAR %</text>
<text x="292.2" y="528.70" font-size="6.4" text-anchor="middle" fill="#222" textLength="15.4" lengthAdjust="spacingAndGlyphs" transform="rotate(-90 292.2 528.70)">Count</text>
<text x="353.40" y="500.20" font-size="6.4" text-anchor="start" font-weight="normal" fill="#222" >35.8% vs. 39.9%</text>
<rect x="406.80" y="494.20" width="9.20" height="5.50" fill="#f4a0a7" />
<rect x="406.80" y="502.00" width="9.20" height="5.80" fill="#8dd5e8" />
<text x="416.40" y="499.20" font-size="6.3" text-anchor="start" font-weight="normal" fill="#222" >CD19mCAR-T w/o SmAb</text>
<text x="416.40" y="507.00" font-size="6.3" text-anchor="start" font-weight="normal" fill="#222" >CD19mCAR-T with SmAb</text>
<text x="284.95" y="494.70" font-size="14.8" text-anchor="start" font-weight="bold" fill="#000" >I</text>
<polygon points="309.50,662.60 309.50,642.53 310.00,640.78 310.50,639.01 311.00,636.81 311.50,633.41 312.00,630.40 312.50,627.38 313.00,624.49 313.50,621.68 314.00,619.00 314.50,616.34 315.00,613.86 315.50,611.63 316.00,609.55 316.50,608.25 317.00,606.98 317.50,607.00 318.00,607.19 318.50,607.24 319.00,608.84 319.50,610.48 320.00,613.92 320.50,617.16 321.00,620.66 321.50,625.98 322.00,630.08 322.50,634.57 323.00,638.89 323.50,641.33 324.00,643.72 324.50,645.87 325.00,648.25 325.50,649.61 326.00,650.91 326.50,652.59 327.00,654.34 327.50,654.78 328.00,655.59 328.50,656.38 329.00,657.07 329.50,657.42 330.00,657.69 330.50,658.18 331.00,658.18 331.50,658.28 332.00,658.74 332.50,658.57 333.00,658.68 333.50,658.61 334.00,658.38 334.50,658.21 335.00,657.82 335.50,657.54 336.00,656.91 336.50,656.65 337.00,655.93 337.50,655.60 338.00,655.49 338.50,655.12 339.00,654.64 339.50,654.41 340.00,654.20 340.50,654.18 341.00,653.99 341.50,653.67 342.00,653.78 342.50,653.29 343.00,653.44 343.50,653.00 344.00,653.14 344.50,652.60 345.00,652.48 345.50,652.33 346.00,652.09 346.50,651.79 347.00,651.58 347.50,651.47 348.00,651.27 348.50,650.90 349.00,650.46 349.50,650.37 350.00,650.38 350.50,649.80 351.00,649.60 351.50,649.28 352.00,649.37 352.50,649.02 353.00,649.24 353.50,648.87 354.00,648.95 354.50,649.16 355.00,649.06 355.50,649.60 356.00,649.60 356.50,649.74 357.00,650.30 357.50,650.60 358.00,650.58 358.50,650.98 359.00,651.04 359.50,651.55 360.00,651.59 360.50,651.86 361.00,651.82 361.50,651.81 362.00,651.12 362.50,651.26 363.00,650.65 363.50,650.74 364.00,650.39 364.50,649.90 365.00,650.48 365.50,650.88 366.00,651.05 366.50,651.57 367.00,652.11 367.50,652.06 368.00,652.83 368.50,653.26 369.00,653.50 369.50,653.76 370.00,654.08 370.50,654.68 371.00,654.88 371.50,655.33 372.00,655.44 372.50,655.60 373.00,655.92 373.50,656.15 374.00,656.52 374.50,656.78 375.00,657.16 375.50,657.50 376.00,657.86 376.50,657.89 377.00,658.29 377.50,658.63 378.00,658.71 378.50,658.75 379.00,659.33 379.50,659.36 380.00,659.69 380.50,659.87 381.00,660.28 381.50,660.15 382.00,660.70 382.50,660.78 383.00,661.11 383.50,661.41 384.00,661.27 384.50,661.58 385.00,661.73 385.50,661.86 386.00,661.91 386.50,662.06 387.00,661.93 387.50,662.10 388.00,662.00 388.50,662.08 389.00,662.12 389.50,662.53 390.00,662.50 390.50,662.60 391.00,662.56 391.50,662.54 392.00,662.46 392.50,662.50 393.00,662.60 393.50,662.60 394.00,662.59 394.50,662.60 395.00,662.60 395.50,662.60 396.00,662.60 396.50,662.50 397.00,662.60 397.50,662.60 398.00,662.60 398.50,662.60 399.00,662.60 399.50,662.59 400.00,662.60 400.50,662.60 401.00,662.54 401.50,662.60 402.00,662.41 402.50,662.39 403.00,662.50 403.50,662.60 404.00,662.59 404.00,662.60" fill="#f4a0a7"/>
<polygon points="309.50,662.60 309.50,651.87 310.00,651.03 310.50,649.51 311.00,648.10 311.50,646.91 312.00,645.60 312.50,643.84 313.00,642.61 313.50,641.10 314.00,639.49 314.50,638.77 315.00,638.06 315.50,636.88 316.00,636.30 316.50,636.21 317.00,635.65 317.50,635.66 318.00,636.33 318.50,636.85 319.00,637.69 319.50,639.27 320.00,640.34 320.50,641.63 321.00,643.25 321.50,645.03 322.00,646.52 322.50,648.09 323.00,649.33 323.50,650.63 324.00,651.70 324.50,652.96 325.00,653.51 325.50,654.62 326.00,655.31 326.50,655.87 327.00,656.31 327.50,656.66 328.00,657.30 328.50,657.68 329.00,657.93 329.50,658.21 330.00,658.11 330.50,658.46 331.00,658.57 331.50,658.69 332.00,659.00 332.50,658.71 333.00,658.65 333.50,658.68 334.00,658.78 334.50,658.85 335.00,658.80 335.50,658.49 336.00,658.58 336.50,658.31 337.00,658.18 337.50,657.81 338.00,657.72 338.50,657.51 339.00,657.40 339.50,657.50 340.00,657.38 340.50,657.03 341.00,656.90 341.50,656.60 342.00,656.25 342.50,655.91 343.00,655.84 343.50,655.50 344.00,655.60 344.50,655.26 345.00,654.73 345.50,654.89 346.00,654.54 346.50,654.47 347.00,654.23 347.50,653.63 348.00,653.36 348.50,653.29 349.00,653.30 349.50,652.99 350.00,652.79 350.50,652.40 351.00,652.20 351.50,652.12 352.00,651.89 352.50,651.89 353.00,651.50 353.50,651.12 354.00,651.02 354.50,651.01 355.00,650.50 355.50,650.09 356.00,649.98 356.50,649.37 357.00,649.25 357.50,648.70 358.00,648.39 358.50,647.68 359.00,647.34 359.50,646.99 360.00,646.61 360.50,645.85 361.00,645.42 361.50,644.55 362.00,643.80 362.50,643.50 363.00,642.73 363.50,642.20 364.00,641.69 364.50,641.00 365.00,640.35 365.50,639.91 366.00,639.47 366.50,638.70 367.00,638.46 367.50,637.73 368.00,637.24 368.50,636.66 369.00,636.08 369.50,636.75 370.00,636.95 370.50,637.43 371.00,636.22 371.50,635.91 372.00,636.50 372.50,637.23 373.00,636.26 373.50,635.38 374.00,634.54 374.50,635.15 375.00,635.59 375.50,636.46 376.00,634.89 376.50,635.50 377.00,636.07 377.50,636.44 378.00,634.54 378.50,635.28 379.00,635.33 379.50,635.74 380.00,634.85 380.50,635.37 381.00,636.20 381.50,636.00 382.00,635.34 382.50,636.31 383.00,636.76 383.50,637.51 384.00,638.26 384.50,638.98 385.00,639.89 385.50,640.87 386.00,641.38 386.50,642.74 387.00,643.73 387.50,644.46 388.00,645.26 388.50,646.58 389.00,647.78 389.50,649.14 390.00,650.30 390.50,651.60 391.00,652.77 391.50,653.81 392.00,655.18 392.50,655.92 393.00,656.37 393.50,657.40 394.00,657.90 394.50,658.46 395.00,659.21 395.50,659.65 396.00,660.18 396.50,660.40 397.00,660.98 397.50,661.23 398.00,661.38 398.50,661.60 399.00,661.93 399.50,662.19 400.00,662.06 400.50,662.00 401.00,662.41 401.50,662.46 402.00,662.60 402.50,662.60 403.00,662.43 403.50,662.60 404.00,662.53 404.00,662.60" fill="#8dd5e8"/>
<polygon points="309.50,662.60 309.50,651.87 310.00,651.03 310.50,649.51 311.00,648.10 311.50,646.91 312.00,645.60 312.50,643.84 313.00,642.61 313.50,641.10 314.00,639.49 314.50,638.77 315.00,638.06 315.50,636.88 316.00,636.30 316.50,636.21 317.00,635.65 317.50,635.66 318.00,636.33 318.50,636.85 319.00,637.69 319.50,639.27 320.00,640.34 320.50,641.63 321.00,643.25 321.50,645.03 322.00,646.52 322.50,648.09 323.00,649.33 323.50,650.63 324.00,651.70 324.50,652.96 325.00,653.51 325.50,654.62 326.00,655.31 326.50,655.87 327.00,656.31 327.50,656.66 328.00,657.30 328.50,657.68 329.00,657.93 329.50,658.21 330.00,658.11 330.50,658.46 331.00,658.57 331.50,658.69 332.00,659.00 332.50,658.71 333.00,658.68 333.50,658.68 334.00,658.78 334.50,658.85 335.00,658.80 335.50,658.49 336.00,658.58 336.50,658.31 337.00,658.18 337.50,657.81 338.00,657.72 338.50,657.51 339.00,657.40 339.50,657.50 340.00,657.38 340.50,657.03 341.00,656.90 341.50,656.60 342.00,656.25 342.50,655.91 343.00,655.84 343.50,655.50 344.00,655.60 344.50,655.26 345.00,654.73 345.50,654.89 346.00,654.54 346.50,654.47 347.00,654.23 347.50,653.63 348.00,653.36 348.50,653.29 349.00,653.30 349.50,652.99 350.00,652.79 350.50,652.40 351.00,652.20 351.50,652.12 352.00,651.89 352.50,651.89 353.00,651.50 353.50,651.12 354.00,651.02 354.50,651.01 355.00,650.50 355.50,650.09 356.00,649.98 356.50,649.74 357.00,650.30 357.50,650.60 358.00,650.58 358.50,650.98 359.00,651.04 359.50,651.55 360.00,651.59 360.50,651.86 361.00,651.82 361.50,651.81 362.00,651.12 362.50,651.26 363.00,650.65 363.50,650.74 364.00,650.39 364.50,649.90 365.00,650.48 365.50,650.88 366.00,651.05 366.50,651.57 367.00,652.11 367.50,652.06 368.00,652.83 368.50,653.26 369.00,653.50 369.50,653.76 370.00,654.08 370.50,654.68 371.00,654.88 371.50,655.33 372.00,655.44 372.50,655.60 373.00,655.92 373.50,656.15 374.00,656.52 374.50,656.78 375.00,657.16 375.50,657.50 376.00,657.86 376.50,657.89 377.00,658.29 377.50,658.63 378.00,658.71 378.50,658.75 379.00,659.33 379.50,659.36 380.00,659.69 380.50,659.87 381.00,660.28 381.50,660.15 382.00,660.70 382.50,660.78 383.00,661.11 383.50,661.41 384.00,661.27 384.50,661.58 385.00,661.73 385.50,661.86 386.00,661.91 386.50,662.06 387.00,661.93 387.50,662.10 388.00,662.00 388.50,662.08 389.00,662.12 389.50,662.53 390.00,662.50 390.50,662.60 391.00,662.56 391.50,662.54 392.00,662.46 392.50,662.50 393.00,662.60 393.50,662.60 394.00,662.59 394.50,662.60 395.00,662.60 395.50,662.60 396.00,662.60 396.50,662.50 397.00,662.60 397.50,662.60 398.00,662.60 398.50,662.60 399.00,662.60 399.50,662.59 400.00,662.60 400.50,662.60 401.00,662.54 401.50,662.60 402.00,662.60 402.50,662.60 403.00,662.50 403.50,662.60 404.00,662.59 404.00,662.60" fill="#84acc1"/>
<polyline points="309.50,642.53 310.00,640.78 310.50,639.01 311.00,636.81 311.50,633.41 312.00,630.40 312.50,627.38 313.00,624.49 313.50,621.68 314.00,619.00 314.50,616.34 315.00,613.86 315.50,611.63 316.00,609.55 316.50,608.25 317.00,606.98 317.50,607.00 318.00,607.19 318.50,607.24 319.00,608.84 319.50,610.48 320.00,613.92 320.50,617.16 321.00,620.66 321.50,625.98 322.00,630.08 322.50,634.57 323.00,638.89 323.50,641.33 324.00,643.72 324.50,645.87 325.00,648.25 325.50,649.61 326.00,650.91 326.50,652.59 327.00,654.34 327.50,654.78 328.00,655.59 328.50,656.38 329.00,657.07 329.50,657.42 330.00,657.69 330.50,658.18 331.00,658.18 331.50,658.28 332.00,658.74 332.50,658.57 333.00,658.68 333.50,658.61 334.00,658.38 334.50,658.21 335.00,657.82 335.50,657.54 336.00,656.91 336.50,656.65 337.00,655.93 337.50,655.60 338.00,655.49 338.50,655.12 339.00,654.64 339.50,654.41 340.00,654.20 340.50,654.18 341.00,653.99 341.50,653.67 342.00,653.78 342.50,653.29 343.00,653.44 343.50,653.00 344.00,653.14 344.50,652.60 345.00,652.48 345.50,652.33 346.00,652.09 346.50,651.79 347.00,651.58 347.50,651.47 348.00,651.27 348.50,650.90 349.00,650.46 349.50,650.37 350.00,650.38 350.50,649.80 351.00,649.60 351.50,649.28 352.00,649.37 352.50,649.02 353.00,649.24 353.50,648.87 354.00,648.95 354.50,649.16 355.00,649.06 355.50,649.60 356.00,649.60 356.50,649.74 357.00,650.30 357.50,650.60 358.00,650.58 358.50,650.98 359.00,651.04 359.50,651.55 360.00,651.59 360.50,651.86 361.00,651.82 361.50,651.81 362.00,651.12 362.50,651.26 363.00,650.65 363.50,650.74 364.00,650.39 364.50,649.90 365.00,650.48 365.50,650.88 366.00,651.05 366.50,651.57 367.00,652.11 367.50,652.06 368.00,652.83 368.50,653.26 369.00,653.50 369.50,653.76 370.00,654.08 370.50,654.68 371.00,654.88 371.50,655.33 372.00,655.44 372.50,655.60 373.00,655.92 373.50,656.15 374.00,656.52 374.50,656.78 375.00,657.16 375.50,657.50 376.00,657.86 376.50,657.89 377.00,658.29 377.50,658.63 378.00,658.71 378.50,658.75 379.00,659.33 379.50,659.36 380.00,659.69 380.50,659.87 381.00,660.28 381.50,660.15 382.00,660.70 382.50,660.78 383.00,661.11 383.50,661.41 384.00,661.27 384.50,661.58 385.00,661.73 385.50,661.86 386.00,661.91 386.50,662.06 387.00,661.93 387.50,662.10 388.00,662.00 388.50,662.08 389.00,662.12 390.00,662.50 392.00,662.46 392.50,662.50 396.50,662.50 402.00,662.41 402.50,662.39 403.00,662.50" fill="none" stroke="#d46e7a" stroke-width="0.7" stroke-opacity="0.85"/>
<polyline points="309.50,651.87 310.00,651.03 310.50,649.51 311.00,648.10 311.50,646.91 312.00,645.60 312.50,643.84 313.00,642.61 313.50,641.10 314.00,639.49 314.50,638.77 315.00,638.06 315.50,636.88 316.00,636.30 316.50,636.21 317.00,635.65 317.50,635.66 318.00,636.33 318.50,636.85 319.00,637.69 319.50,639.27 320.00,640.34 320.50,641.63 321.00,643.25 321.50,645.03 322.00,646.52 322.50,648.09 323.00,649.33 323.50,650.63 324.00,651.70 324.50,652.96 325.00,653.51 325.50,654.62 326.00,655.31 326.50,655.87 327.00,656.31 327.50,656.66 328.00,657.30 328.50,657.68 329.00,657.93 329.50,658.21 330.00,658.11 330.50,658.46 331.00,658.57 331.50,658.69 332.00,659.00 332.50,658.71 333.00,658.65 333.50,658.68 334.00,658.78 334.50,658.85 335.00,658.80 335.50,658.49 336.00,658.58 336.50,658.31 337.00,658.18 337.50,657.81 338.00,657.72 338.50,657.51 339.00,657.40 339.50,657.50 340.00,657.38 340.50,657.03 341.00,656.90 341.50,656.60 342.00,656.25 342.50,655.91 343.00,655.84 343.50,655.50 344.00,655.60 344.50,655.26 345.00,654.73 345.50,654.89 346.00,654.54 346.50,654.47 347.00,654.23 347.50,653.63 348.00,653.36 348.50,653.29 349.00,653.30 349.50,652.99 350.00,652.79 350.50,652.40 351.00,652.20 351.50,652.12 352.00,651.89 352.50,651.89 353.00,651.50 353.50,651.12 354.00,651.02 354.50,651.01 355.00,650.50 355.50,650.09 356.00,649.98 356.50,649.37 357.00,649.25 357.50,648.70 358.00,648.39 358.50,647.68 359.00,647.34 359.50,646.99 360.00,646.61 360.50,645.85 361.00,645.42 361.50,644.55 362.00,643.80 362.50,643.50 363.00,642.73 363.50,642.20 364.00,641.69 364.50,641.00 365.00,640.35 365.50,639.91 366.00,639.47 366.50,638.70 367.00,638.46 367.50,637.73 368.00,637.24 368.50,636.66 369.00,636.08 369.50,636.75 370.00,636.95 370.50,637.43 371.00,636.22 371.50,635.91 372.00,636.50 372.50,637.23 373.00,636.26 373.50,635.38 374.00,634.54 374.50,635.15 375.00,635.59 375.50,636.46 376.00,634.89 376.50,635.50 377.00,636.07 377.50,636.44 378.00,634.54 378.50,635.28 379.00,635.33 379.50,635.74 380.00,634.85 380.50,635.37 381.00,636.20 381.50,636.00 382.00,635.34 382.50,636.31 383.00,636.76 383.50,637.51 384.00,638.26 384.50,638.98 385.00,639.89 385.50,640.87 386.00,641.38 386.50,642.74 387.00,643.73 387.50,644.46 388.00,645.26 388.50,646.58 389.00,647.78 389.50,649.14 390.00,650.30 390.50,651.60 391.00,652.77 391.50,653.81 392.00,655.18 392.50,655.92 393.00,656.37 393.50,657.40 394.00,657.90 394.50,658.46 395.00,659.21 395.50,659.65 396.00,660.18 396.50,660.40 397.00,660.98 397.50,661.23 398.00,661.38 398.50,661.60 399.00,661.93 399.50,662.19 400.00,662.06 400.50,662.00 401.00,662.41 401.50,662.46 403.00,662.43" fill="none" stroke="#45b0cc" stroke-width="0.7" stroke-opacity="0.85"/>
<line x1="309.50" y1="594.30" x2="404.20" y2="594.30" stroke="#a0a0a0" stroke-width="0.8" />
<line x1="404.20" y1="594.30" x2="404.20" y2="662.60" stroke="#a0a0a0" stroke-width="0.8" />
<line x1="309.50" y1="594.30" x2="309.50" y2="663.10" stroke="#222" stroke-width="0.9" />
<line x1="309.50" y1="662.60" x2="404.20" y2="662.60" stroke="#222" stroke-width="0.9" />
<line x1="340.60" y1="594.30" x2="340.60" y2="662.60" stroke="#1a1a1a" stroke-width="0.9" stroke-dasharray="1.0 0.5"/>
<line x1="306.20" y1="662.60" x2="309.50" y2="662.60" stroke="#222" stroke-width="0.8" />
<text x="305.20" y="664.40" font-size="5.0" text-anchor="end" font-weight="normal" fill="#222" >0</text>
<line x1="306.20" y1="643.50" x2="309.50" y2="643.50" stroke="#222" stroke-width="0.8" />
<text x="305.20" y="645.30" font-size="5.0" text-anchor="end" font-weight="normal" fill="#222" >50</text>
<line x1="306.20" y1="624.40" x2="309.50" y2="624.40" stroke="#222" stroke-width="0.8" />
<text x="305.20" y="626.20" font-size="5.0" text-anchor="end" font-weight="normal" fill="#222" >100</text>
<line x1="306.20" y1="605.30" x2="309.50" y2="605.30" stroke="#222" stroke-width="0.8" />
<text x="305.20" y="607.10" font-size="5.0" text-anchor="end" font-weight="normal" fill="#222" >150</text>
<line x1="311.60" y1="662.60" x2="311.60" y2="664.40" stroke="#222" stroke-width="0.8" />
<text x="312.00" y="671.40" font-size="5.0" text-anchor="middle" fill="#222">10<tspan font-size="3.2" dy="-2.2">0</tspan></text>
<line x1="318.43" y1="662.60" x2="318.43" y2="663.60" stroke="#444" stroke-width="0.4" />
<line x1="322.43" y1="662.60" x2="322.43" y2="663.60" stroke="#444" stroke-width="0.4" />
<line x1="325.27" y1="662.60" x2="325.27" y2="663.60" stroke="#444" stroke-width="0.4" />
<line x1="327.47" y1="662.60" x2="327.47" y2="663.60" stroke="#444" stroke-width="0.4" />
<line x1="329.26" y1="662.60" x2="329.26" y2="663.60" stroke="#444" stroke-width="0.4" />
<line x1="330.78" y1="662.60" x2="330.78" y2="663.60" stroke="#444" stroke-width="0.4" />
<line x1="332.10" y1="662.60" x2="332.10" y2="663.60" stroke="#444" stroke-width="0.4" />
<line x1="333.26" y1="662.60" x2="333.26" y2="663.60" stroke="#444" stroke-width="0.4" />
<line x1="334.30" y1="662.60" x2="334.30" y2="664.40" stroke="#222" stroke-width="0.8" />
<text x="334.70" y="671.40" font-size="5.0" text-anchor="middle" fill="#222">10<tspan font-size="3.2" dy="-2.2">1</tspan></text>
<line x1="341.13" y1="662.60" x2="341.13" y2="663.60" stroke="#444" stroke-width="0.4" />
<line x1="345.13" y1="662.60" x2="345.13" y2="663.60" stroke="#444" stroke-width="0.4" />
<line x1="347.97" y1="662.60" x2="347.97" y2="663.60" stroke="#444" stroke-width="0.4" />
<line x1="350.17" y1="662.60" x2="350.17" y2="663.60" stroke="#444" stroke-width="0.4" />
<line x1="351.96" y1="662.60" x2="351.96" y2="663.60" stroke="#444" stroke-width="0.4" />
<line x1="353.48" y1="662.60" x2="353.48" y2="663.60" stroke="#444" stroke-width="0.4" />
<line x1="354.80" y1="662.60" x2="354.80" y2="663.60" stroke="#444" stroke-width="0.4" />
<line x1="355.96" y1="662.60" x2="355.96" y2="663.60" stroke="#444" stroke-width="0.4" />
<line x1="357.00" y1="662.60" x2="357.00" y2="664.40" stroke="#222" stroke-width="0.8" />
<text x="357.40" y="671.40" font-size="5.0" text-anchor="middle" fill="#222">10<tspan font-size="3.2" dy="-2.2">2</tspan></text>
<line x1="363.83" y1="662.60" x2="363.83" y2="663.60" stroke="#444" stroke-width="0.4" />
<line x1="367.83" y1="662.60" x2="367.83" y2="663.60" stroke="#444" stroke-width="0.4" />
<line x1="370.67" y1="662.60" x2="370.67" y2="663.60" stroke="#444" stroke-width="0.4" />
<line x1="372.87" y1="662.60" x2="372.87" y2="663.60" stroke="#444" stroke-width="0.4" />
<line x1="374.66" y1="662.60" x2="374.66" y2="663.60" stroke="#444" stroke-width="0.4" />
<line x1="376.18" y1="662.60" x2="376.18" y2="663.60" stroke="#444" stroke-width="0.4" />
<line x1="377.50" y1="662.60" x2="377.50" y2="663.60" stroke="#444" stroke-width="0.4" />
<line x1="378.66" y1="662.60" x2="378.66" y2="663.60" stroke="#444" stroke-width="0.4" />
<line x1="379.70" y1="662.60" x2="379.70" y2="664.40" stroke="#222" stroke-width="0.8" />
<text x="380.10" y="671.40" font-size="5.0" text-anchor="middle" fill="#222">10<tspan font-size="3.2" dy="-2.2">3</tspan></text>
<line x1="386.53" y1="662.60" x2="386.53" y2="663.60" stroke="#444" stroke-width="0.4" />
<line x1="390.53" y1="662.60" x2="390.53" y2="663.60" stroke="#444" stroke-width="0.4" />
<line x1="393.37" y1="662.60" x2="393.37" y2="663.60" stroke="#444" stroke-width="0.4" />
<line x1="395.57" y1="662.60" x2="395.57" y2="663.60" stroke="#444" stroke-width="0.4" />
<line x1="397.36" y1="662.60" x2="397.36" y2="663.60" stroke="#444" stroke-width="0.4" />
<line x1="398.88" y1="662.60" x2="398.88" y2="663.60" stroke="#444" stroke-width="0.4" />
<line x1="400.20" y1="662.60" x2="400.20" y2="663.60" stroke="#444" stroke-width="0.4" />
<line x1="401.36" y1="662.60" x2="401.36" y2="663.60" stroke="#444" stroke-width="0.4" />
<line x1="402.40" y1="662.60" x2="402.40" y2="664.40" stroke="#222" stroke-width="0.8" />
<text x="402.80" y="671.40" font-size="5.0" text-anchor="middle" fill="#222">10<tspan font-size="3.2" dy="-2.2">4</tspan></text>
<text x="361.00" y="677.00" font-size="6.6" text-anchor="middle" font-weight="normal" fill="#222" >CAR %</text>
<text x="292.0" y="630.65" font-size="6.4" text-anchor="middle" fill="#222" textLength="15.4" lengthAdjust="spacingAndGlyphs" transform="rotate(-90 292.0 630.65)">Count</text>
<text x="355.70" y="601.80" font-size="6.4" text-anchor="start" font-weight="normal" fill="#222" >36.2% vs. 70.4%</text>
<rect x="406.80" y="595.20" width="9.20" height="5.50" fill="#f4a0a7" />
<rect x="406.80" y="603.00" width="9.20" height="5.80" fill="#8dd5e8" />
<text x="416.40" y="600.20" font-size="6.3" text-anchor="start" font-weight="normal" fill="#222" >CD19hsCAR-T w/o SmAb</text>
<text x="416.40" y="608.00" font-size="6.3" text-anchor="start" font-weight="normal" fill="#222" >CD19hsCAR-T with SmAb</text>
<text x="282.80" y="594.40" font-size="14.8" text-anchor="start" font-weight="bold" fill="#000" >J</text>
</svg></body></html>
